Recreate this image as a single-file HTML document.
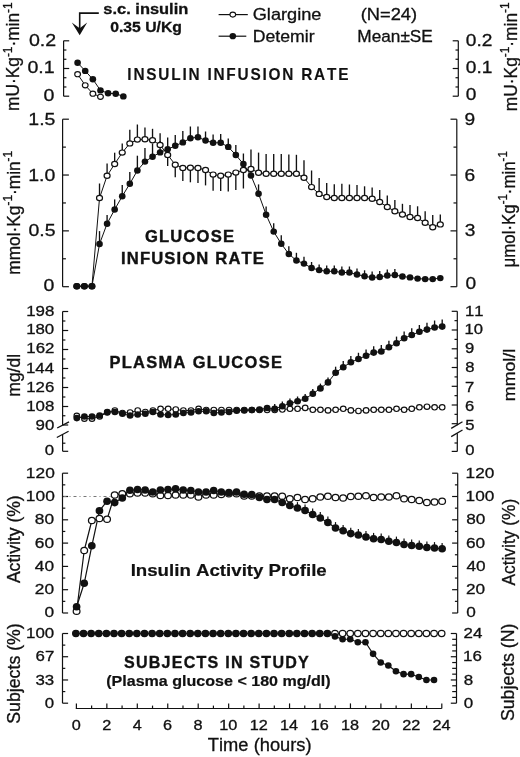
<!DOCTYPE html>
<html><head><meta charset="utf-8"><title>Insulin glargine vs detemir</title>
<style>
html,body{margin:0;padding:0;background:#fff;}
svg{display:block;}
text{font-family:"Liberation Sans",sans-serif;fill:#111;font-kerning:none;stroke:#111;stroke-width:0.3px;}
</style></head>
<body>
<svg width="520" height="757" viewBox="0 0 520 757">
<rect width="520" height="757" fill="#fff"/>
<line x1="63.60" y1="40.80" x2="63.60" y2="96.20" stroke="#111" stroke-width="1.2" />
<line x1="63.60" y1="96.20" x2="69.20" y2="96.20" stroke="#111" stroke-width="1.2" />
<line x1="63.60" y1="86.97" x2="66.40" y2="86.97" stroke="#111" stroke-width="1.2" />
<line x1="63.60" y1="77.73" x2="66.40" y2="77.73" stroke="#111" stroke-width="1.2" />
<line x1="63.60" y1="68.50" x2="69.20" y2="68.50" stroke="#111" stroke-width="1.2" />
<line x1="63.60" y1="59.27" x2="66.40" y2="59.27" stroke="#111" stroke-width="1.2" />
<line x1="63.60" y1="50.03" x2="66.40" y2="50.03" stroke="#111" stroke-width="1.2" />
<line x1="63.60" y1="40.80" x2="69.20" y2="40.80" stroke="#111" stroke-width="1.2" />
<line x1="458.30" y1="40.80" x2="458.30" y2="96.20" stroke="#111" stroke-width="1.2" />
<line x1="458.30" y1="96.20" x2="452.70" y2="96.20" stroke="#111" stroke-width="1.2" />
<line x1="458.30" y1="86.97" x2="455.50" y2="86.97" stroke="#111" stroke-width="1.2" />
<line x1="458.30" y1="77.73" x2="455.50" y2="77.73" stroke="#111" stroke-width="1.2" />
<line x1="458.30" y1="68.50" x2="452.70" y2="68.50" stroke="#111" stroke-width="1.2" />
<line x1="458.30" y1="59.27" x2="455.50" y2="59.27" stroke="#111" stroke-width="1.2" />
<line x1="458.30" y1="50.03" x2="455.50" y2="50.03" stroke="#111" stroke-width="1.2" />
<line x1="458.30" y1="40.80" x2="452.70" y2="40.80" stroke="#111" stroke-width="1.2" />
<path d="M77.60,74.20 L85.22,85.30 L92.85,93.70 L100.47,96.80" fill="none" stroke="#111" stroke-width="1.0" stroke-linejoin="round"/>
<path d="M77.60,62.80 L85.22,70.90 L92.85,79.30 L100.47,90.40 L108.10,93.30 L115.72,93.70 L123.35,96.40" fill="none" stroke="#111" stroke-width="1.0" stroke-linejoin="round"/>
<ellipse cx="77.60" cy="74.20" rx="2.88" ry="2.53" fill="#fff" stroke="#111" stroke-width="1.15"/>
<ellipse cx="85.22" cy="85.30" rx="2.88" ry="2.53" fill="#fff" stroke="#111" stroke-width="1.15"/>
<ellipse cx="92.85" cy="93.70" rx="2.88" ry="2.53" fill="#fff" stroke="#111" stroke-width="1.15"/>
<ellipse cx="100.47" cy="96.80" rx="2.88" ry="2.53" fill="#fff" stroke="#111" stroke-width="1.15"/>
<ellipse cx="77.60" cy="62.80" rx="3.3" ry="3.2" fill="#111"/>
<ellipse cx="85.22" cy="70.90" rx="3.3" ry="3.2" fill="#111"/>
<ellipse cx="92.85" cy="79.30" rx="3.3" ry="3.2" fill="#111"/>
<ellipse cx="100.47" cy="90.40" rx="3.3" ry="3.2" fill="#111"/>
<ellipse cx="108.10" cy="93.30" rx="3.3" ry="3.2" fill="#111"/>
<ellipse cx="115.72" cy="93.70" rx="3.3" ry="3.2" fill="#111"/>
<ellipse cx="123.35" cy="96.40" rx="3.3" ry="3.2" fill="#111"/>
<line x1="62.60" y1="119.20" x2="62.60" y2="286.70" stroke="#111" stroke-width="1.2" />
<line x1="62.60" y1="286.70" x2="68.90" y2="286.70" stroke="#111" stroke-width="1.2" />
<line x1="62.60" y1="258.78" x2="65.90" y2="258.78" stroke="#111" stroke-width="1.2" />
<line x1="62.60" y1="230.87" x2="68.90" y2="230.87" stroke="#111" stroke-width="1.2" />
<line x1="62.60" y1="202.95" x2="65.90" y2="202.95" stroke="#111" stroke-width="1.2" />
<line x1="62.60" y1="175.03" x2="68.90" y2="175.03" stroke="#111" stroke-width="1.2" />
<line x1="62.60" y1="147.12" x2="65.90" y2="147.12" stroke="#111" stroke-width="1.2" />
<line x1="62.60" y1="119.20" x2="68.90" y2="119.20" stroke="#111" stroke-width="1.2" />
<line x1="456.80" y1="119.20" x2="456.80" y2="286.70" stroke="#111" stroke-width="1.2" />
<line x1="456.80" y1="286.70" x2="450.50" y2="286.70" stroke="#111" stroke-width="1.2" />
<line x1="456.80" y1="258.78" x2="453.50" y2="258.78" stroke="#111" stroke-width="1.2" />
<line x1="456.80" y1="230.87" x2="450.50" y2="230.87" stroke="#111" stroke-width="1.2" />
<line x1="456.80" y1="202.95" x2="453.50" y2="202.95" stroke="#111" stroke-width="1.2" />
<line x1="456.80" y1="175.03" x2="450.50" y2="175.03" stroke="#111" stroke-width="1.2" />
<line x1="456.80" y1="147.12" x2="453.50" y2="147.12" stroke="#111" stroke-width="1.2" />
<line x1="456.80" y1="119.20" x2="450.50" y2="119.20" stroke="#111" stroke-width="1.2" />
<path d="M76.80,286.20 L84.37,286.20 L91.95,286.20 L99.52,198.00 L107.09,175.70 L114.66,164.00 L122.24,152.60 L129.81,143.40 L137.38,139.60 L144.96,139.30 L152.53,140.30 L160.10,144.90 L167.68,154.90 L175.25,164.70 L182.82,167.90 L190.39,167.70 L197.97,168.00 L205.54,170.00 L213.11,174.60 L220.69,175.70 L228.26,174.60 L235.83,172.60 L243.41,170.00 L250.98,169.00 L258.55,172.70 L266.12,173.70 L273.70,173.70 L281.27,173.70 L288.84,173.70 L296.42,173.70 L303.99,177.70 L311.56,187.10 L319.14,193.90 L326.71,197.00 L334.28,198.00 L341.86,198.00 L349.43,198.00 L357.00,198.00 L364.57,198.00 L372.15,198.80 L379.72,202.00 L387.29,207.00 L394.87,211.30 L402.44,214.50 L410.01,217.00 L417.59,218.00 L425.16,222.70 L432.73,227.30 L440.30,224.40" fill="none" stroke="#111" stroke-width="1.0" stroke-linejoin="round"/>
<path d="M76.80,286.20 L84.37,286.20 L91.95,286.20 L99.52,244.00 L107.09,223.70 L114.66,209.50 L122.24,196.20 L129.81,183.80 L137.38,170.50 L144.96,161.60 L152.53,156.80 L160.10,152.40 L167.68,149.30 L175.25,145.80 L182.82,142.40 L190.39,138.20 L197.97,137.20 L205.54,140.50 L213.11,142.80 L220.69,142.80 L228.26,146.90 L235.83,155.00 L243.41,164.00 L250.98,175.50 L258.55,193.80 L266.12,214.70 L273.70,231.60 L281.27,243.80 L288.84,254.00 L296.42,260.50 L303.99,263.60 L311.56,268.00 L319.14,270.10 L326.71,271.30 L334.28,271.30 L341.86,272.50 L349.43,272.50 L357.00,274.50 L364.57,276.30 L372.15,277.50 L379.72,277.00 L387.29,275.50 L394.87,275.00 L402.44,276.50 L410.01,277.40 L417.59,278.60 L425.16,279.10 L432.73,279.10 L440.30,278.10" fill="none" stroke="#111" stroke-width="1.0" stroke-linejoin="round"/>
<line x1="99.52" y1="198.00" x2="99.52" y2="183.50" stroke="#111" stroke-width="1.35" />
<line x1="107.09" y1="175.70" x2="107.09" y2="163.50" stroke="#111" stroke-width="1.35" />
<line x1="114.66" y1="164.00" x2="114.66" y2="152.70" stroke="#111" stroke-width="1.35" />
<line x1="122.24" y1="152.60" x2="122.24" y2="143.50" stroke="#111" stroke-width="1.35" />
<line x1="129.81" y1="143.40" x2="129.81" y2="129.70" stroke="#111" stroke-width="1.35" />
<line x1="137.38" y1="139.60" x2="137.38" y2="124.50" stroke="#111" stroke-width="1.35" />
<line x1="144.96" y1="139.30" x2="144.96" y2="127.50" stroke="#111" stroke-width="1.35" />
<line x1="152.53" y1="140.30" x2="152.53" y2="128.80" stroke="#111" stroke-width="1.35" />
<line x1="160.10" y1="144.90" x2="160.10" y2="133.20" stroke="#111" stroke-width="1.35" />
<line x1="167.68" y1="154.90" x2="167.68" y2="166.00" stroke="#111" stroke-width="1.35" />
<line x1="175.25" y1="164.70" x2="175.25" y2="177.30" stroke="#111" stroke-width="1.35" />
<line x1="182.82" y1="167.90" x2="182.82" y2="180.90" stroke="#111" stroke-width="1.35" />
<line x1="190.39" y1="167.70" x2="190.39" y2="182.30" stroke="#111" stroke-width="1.35" />
<line x1="197.97" y1="168.00" x2="197.97" y2="183.00" stroke="#111" stroke-width="1.35" />
<line x1="205.54" y1="170.00" x2="205.54" y2="185.40" stroke="#111" stroke-width="1.35" />
<line x1="213.11" y1="174.60" x2="213.11" y2="190.80" stroke="#111" stroke-width="1.35" />
<line x1="220.69" y1="175.70" x2="220.69" y2="191.00" stroke="#111" stroke-width="1.35" />
<line x1="228.26" y1="174.60" x2="228.26" y2="191.50" stroke="#111" stroke-width="1.35" />
<line x1="235.83" y1="172.60" x2="235.83" y2="190.00" stroke="#111" stroke-width="1.35" />
<line x1="243.41" y1="170.00" x2="243.41" y2="188.50" stroke="#111" stroke-width="1.35" />
<line x1="250.98" y1="169.00" x2="250.98" y2="149.60" stroke="#111" stroke-width="1.35" />
<line x1="258.55" y1="172.70" x2="258.55" y2="152.60" stroke="#111" stroke-width="1.35" />
<line x1="266.12" y1="173.70" x2="266.12" y2="153.90" stroke="#111" stroke-width="1.35" />
<line x1="273.70" y1="173.70" x2="273.70" y2="154.00" stroke="#111" stroke-width="1.35" />
<line x1="281.27" y1="173.70" x2="281.27" y2="154.00" stroke="#111" stroke-width="1.35" />
<line x1="288.84" y1="173.70" x2="288.84" y2="154.40" stroke="#111" stroke-width="1.35" />
<line x1="296.42" y1="173.70" x2="296.42" y2="154.80" stroke="#111" stroke-width="1.35" />
<line x1="303.99" y1="177.70" x2="303.99" y2="160.30" stroke="#111" stroke-width="1.35" />
<line x1="311.56" y1="187.10" x2="311.56" y2="170.50" stroke="#111" stroke-width="1.35" />
<line x1="319.14" y1="193.90" x2="319.14" y2="177.90" stroke="#111" stroke-width="1.35" />
<line x1="326.71" y1="197.00" x2="326.71" y2="183.00" stroke="#111" stroke-width="1.35" />
<line x1="334.28" y1="198.00" x2="334.28" y2="184.30" stroke="#111" stroke-width="1.35" />
<line x1="341.86" y1="198.00" x2="341.86" y2="183.80" stroke="#111" stroke-width="1.35" />
<line x1="349.43" y1="198.00" x2="349.43" y2="184.50" stroke="#111" stroke-width="1.35" />
<line x1="357.00" y1="198.00" x2="357.00" y2="185.00" stroke="#111" stroke-width="1.35" />
<line x1="364.57" y1="198.00" x2="364.57" y2="186.30" stroke="#111" stroke-width="1.35" />
<line x1="372.15" y1="198.80" x2="372.15" y2="187.50" stroke="#111" stroke-width="1.35" />
<line x1="379.72" y1="202.00" x2="379.72" y2="190.00" stroke="#111" stroke-width="1.35" />
<line x1="387.29" y1="207.00" x2="387.29" y2="195.50" stroke="#111" stroke-width="1.35" />
<line x1="394.87" y1="211.30" x2="394.87" y2="200.00" stroke="#111" stroke-width="1.35" />
<line x1="402.44" y1="214.50" x2="402.44" y2="203.80" stroke="#111" stroke-width="1.35" />
<line x1="410.01" y1="217.00" x2="410.01" y2="205.00" stroke="#111" stroke-width="1.35" />
<line x1="417.59" y1="218.00" x2="417.59" y2="206.30" stroke="#111" stroke-width="1.35" />
<line x1="425.16" y1="222.70" x2="425.16" y2="211.30" stroke="#111" stroke-width="1.35" />
<line x1="432.73" y1="227.30" x2="432.73" y2="215.00" stroke="#111" stroke-width="1.35" />
<line x1="440.30" y1="224.40" x2="440.30" y2="214.60" stroke="#111" stroke-width="1.35" />
<line x1="99.52" y1="244.00" x2="99.52" y2="231.10" stroke="#111" stroke-width="1.35" />
<line x1="107.09" y1="223.70" x2="107.09" y2="215.00" stroke="#111" stroke-width="1.35" />
<line x1="114.66" y1="209.50" x2="114.66" y2="199.40" stroke="#111" stroke-width="1.35" />
<line x1="122.24" y1="196.20" x2="122.24" y2="185.00" stroke="#111" stroke-width="1.35" />
<line x1="129.81" y1="183.80" x2="129.81" y2="172.10" stroke="#111" stroke-width="1.35" />
<line x1="137.38" y1="170.50" x2="137.38" y2="155.70" stroke="#111" stroke-width="1.35" />
<line x1="144.96" y1="161.60" x2="144.96" y2="147.90" stroke="#111" stroke-width="1.35" />
<line x1="152.53" y1="156.80" x2="152.53" y2="143.50" stroke="#111" stroke-width="1.35" />
<line x1="160.10" y1="152.40" x2="160.10" y2="141.00" stroke="#111" stroke-width="1.35" />
<line x1="167.68" y1="149.30" x2="167.68" y2="137.50" stroke="#111" stroke-width="1.35" />
<line x1="175.25" y1="145.80" x2="175.25" y2="134.90" stroke="#111" stroke-width="1.35" />
<line x1="182.82" y1="142.40" x2="182.82" y2="130.90" stroke="#111" stroke-width="1.35" />
<line x1="190.39" y1="138.20" x2="190.39" y2="126.50" stroke="#111" stroke-width="1.35" />
<line x1="197.97" y1="137.20" x2="197.97" y2="126.50" stroke="#111" stroke-width="1.35" />
<line x1="205.54" y1="140.50" x2="205.54" y2="131.50" stroke="#111" stroke-width="1.35" />
<line x1="213.11" y1="142.80" x2="213.11" y2="134.60" stroke="#111" stroke-width="1.35" />
<line x1="220.69" y1="142.80" x2="220.69" y2="134.00" stroke="#111" stroke-width="1.35" />
<line x1="228.26" y1="146.90" x2="228.26" y2="138.50" stroke="#111" stroke-width="1.35" />
<line x1="235.83" y1="155.00" x2="235.83" y2="145.00" stroke="#111" stroke-width="1.35" />
<line x1="243.41" y1="164.00" x2="243.41" y2="153.50" stroke="#111" stroke-width="1.35" />
<line x1="250.98" y1="175.50" x2="250.98" y2="166.00" stroke="#111" stroke-width="1.35" />
<line x1="258.55" y1="193.80" x2="258.55" y2="184.40" stroke="#111" stroke-width="1.35" />
<line x1="266.12" y1="214.70" x2="266.12" y2="206.50" stroke="#111" stroke-width="1.35" />
<line x1="273.70" y1="231.60" x2="273.70" y2="223.20" stroke="#111" stroke-width="1.35" />
<line x1="281.27" y1="243.80" x2="281.27" y2="235.20" stroke="#111" stroke-width="1.35" />
<line x1="288.84" y1="254.00" x2="288.84" y2="246.30" stroke="#111" stroke-width="1.35" />
<line x1="296.42" y1="260.50" x2="296.42" y2="252.80" stroke="#111" stroke-width="1.35" />
<line x1="303.99" y1="263.60" x2="303.99" y2="256.80" stroke="#111" stroke-width="1.35" />
<line x1="311.56" y1="268.00" x2="311.56" y2="262.00" stroke="#111" stroke-width="1.35" />
<line x1="319.14" y1="270.10" x2="319.14" y2="264.50" stroke="#111" stroke-width="1.35" />
<line x1="326.71" y1="271.30" x2="326.71" y2="265.50" stroke="#111" stroke-width="1.35" />
<line x1="334.28" y1="271.30" x2="334.28" y2="265.50" stroke="#111" stroke-width="1.35" />
<line x1="341.86" y1="272.50" x2="341.86" y2="266.50" stroke="#111" stroke-width="1.35" />
<line x1="349.43" y1="272.50" x2="349.43" y2="266.50" stroke="#111" stroke-width="1.35" />
<line x1="357.00" y1="274.50" x2="357.00" y2="268.50" stroke="#111" stroke-width="1.35" />
<line x1="364.57" y1="276.30" x2="364.57" y2="270.30" stroke="#111" stroke-width="1.35" />
<line x1="372.15" y1="277.50" x2="372.15" y2="271.50" stroke="#111" stroke-width="1.35" />
<line x1="379.72" y1="277.00" x2="379.72" y2="271.00" stroke="#111" stroke-width="1.35" />
<line x1="387.29" y1="275.50" x2="387.29" y2="269.50" stroke="#111" stroke-width="1.35" />
<line x1="394.87" y1="275.00" x2="394.87" y2="269.00" stroke="#111" stroke-width="1.35" />
<ellipse cx="76.80" cy="286.20" rx="3.00" ry="2.60" fill="#fff" stroke="#111" stroke-width="1.2"/>
<ellipse cx="84.37" cy="286.20" rx="3.00" ry="2.60" fill="#fff" stroke="#111" stroke-width="1.2"/>
<ellipse cx="91.95" cy="286.20" rx="3.00" ry="2.60" fill="#fff" stroke="#111" stroke-width="1.2"/>
<ellipse cx="99.52" cy="198.00" rx="3.00" ry="2.60" fill="#fff" stroke="#111" stroke-width="1.2"/>
<ellipse cx="107.09" cy="175.70" rx="3.00" ry="2.60" fill="#fff" stroke="#111" stroke-width="1.2"/>
<ellipse cx="114.66" cy="164.00" rx="3.00" ry="2.60" fill="#fff" stroke="#111" stroke-width="1.2"/>
<ellipse cx="122.24" cy="152.60" rx="3.00" ry="2.60" fill="#fff" stroke="#111" stroke-width="1.2"/>
<ellipse cx="129.81" cy="143.40" rx="3.00" ry="2.60" fill="#fff" stroke="#111" stroke-width="1.2"/>
<ellipse cx="137.38" cy="139.60" rx="3.00" ry="2.60" fill="#fff" stroke="#111" stroke-width="1.2"/>
<ellipse cx="144.96" cy="139.30" rx="3.00" ry="2.60" fill="#fff" stroke="#111" stroke-width="1.2"/>
<ellipse cx="152.53" cy="140.30" rx="3.00" ry="2.60" fill="#fff" stroke="#111" stroke-width="1.2"/>
<ellipse cx="160.10" cy="144.90" rx="3.00" ry="2.60" fill="#fff" stroke="#111" stroke-width="1.2"/>
<ellipse cx="167.68" cy="154.90" rx="3.00" ry="2.60" fill="#fff" stroke="#111" stroke-width="1.2"/>
<ellipse cx="175.25" cy="164.70" rx="3.00" ry="2.60" fill="#fff" stroke="#111" stroke-width="1.2"/>
<ellipse cx="182.82" cy="167.90" rx="3.00" ry="2.60" fill="#fff" stroke="#111" stroke-width="1.2"/>
<ellipse cx="190.39" cy="167.70" rx="3.00" ry="2.60" fill="#fff" stroke="#111" stroke-width="1.2"/>
<ellipse cx="197.97" cy="168.00" rx="3.00" ry="2.60" fill="#fff" stroke="#111" stroke-width="1.2"/>
<ellipse cx="205.54" cy="170.00" rx="3.00" ry="2.60" fill="#fff" stroke="#111" stroke-width="1.2"/>
<ellipse cx="213.11" cy="174.60" rx="3.00" ry="2.60" fill="#fff" stroke="#111" stroke-width="1.2"/>
<ellipse cx="220.69" cy="175.70" rx="3.00" ry="2.60" fill="#fff" stroke="#111" stroke-width="1.2"/>
<ellipse cx="228.26" cy="174.60" rx="3.00" ry="2.60" fill="#fff" stroke="#111" stroke-width="1.2"/>
<ellipse cx="235.83" cy="172.60" rx="3.00" ry="2.60" fill="#fff" stroke="#111" stroke-width="1.2"/>
<ellipse cx="243.41" cy="170.00" rx="3.00" ry="2.60" fill="#fff" stroke="#111" stroke-width="1.2"/>
<ellipse cx="250.98" cy="169.00" rx="3.00" ry="2.60" fill="#fff" stroke="#111" stroke-width="1.2"/>
<ellipse cx="258.55" cy="172.70" rx="3.00" ry="2.60" fill="#fff" stroke="#111" stroke-width="1.2"/>
<ellipse cx="266.12" cy="173.70" rx="3.00" ry="2.60" fill="#fff" stroke="#111" stroke-width="1.2"/>
<ellipse cx="273.70" cy="173.70" rx="3.00" ry="2.60" fill="#fff" stroke="#111" stroke-width="1.2"/>
<ellipse cx="281.27" cy="173.70" rx="3.00" ry="2.60" fill="#fff" stroke="#111" stroke-width="1.2"/>
<ellipse cx="288.84" cy="173.70" rx="3.00" ry="2.60" fill="#fff" stroke="#111" stroke-width="1.2"/>
<ellipse cx="296.42" cy="173.70" rx="3.00" ry="2.60" fill="#fff" stroke="#111" stroke-width="1.2"/>
<ellipse cx="303.99" cy="177.70" rx="3.00" ry="2.60" fill="#fff" stroke="#111" stroke-width="1.2"/>
<ellipse cx="311.56" cy="187.10" rx="3.00" ry="2.60" fill="#fff" stroke="#111" stroke-width="1.2"/>
<ellipse cx="319.14" cy="193.90" rx="3.00" ry="2.60" fill="#fff" stroke="#111" stroke-width="1.2"/>
<ellipse cx="326.71" cy="197.00" rx="3.00" ry="2.60" fill="#fff" stroke="#111" stroke-width="1.2"/>
<ellipse cx="334.28" cy="198.00" rx="3.00" ry="2.60" fill="#fff" stroke="#111" stroke-width="1.2"/>
<ellipse cx="341.86" cy="198.00" rx="3.00" ry="2.60" fill="#fff" stroke="#111" stroke-width="1.2"/>
<ellipse cx="349.43" cy="198.00" rx="3.00" ry="2.60" fill="#fff" stroke="#111" stroke-width="1.2"/>
<ellipse cx="357.00" cy="198.00" rx="3.00" ry="2.60" fill="#fff" stroke="#111" stroke-width="1.2"/>
<ellipse cx="364.57" cy="198.00" rx="3.00" ry="2.60" fill="#fff" stroke="#111" stroke-width="1.2"/>
<ellipse cx="372.15" cy="198.80" rx="3.00" ry="2.60" fill="#fff" stroke="#111" stroke-width="1.2"/>
<ellipse cx="379.72" cy="202.00" rx="3.00" ry="2.60" fill="#fff" stroke="#111" stroke-width="1.2"/>
<ellipse cx="387.29" cy="207.00" rx="3.00" ry="2.60" fill="#fff" stroke="#111" stroke-width="1.2"/>
<ellipse cx="394.87" cy="211.30" rx="3.00" ry="2.60" fill="#fff" stroke="#111" stroke-width="1.2"/>
<ellipse cx="402.44" cy="214.50" rx="3.00" ry="2.60" fill="#fff" stroke="#111" stroke-width="1.2"/>
<ellipse cx="410.01" cy="217.00" rx="3.00" ry="2.60" fill="#fff" stroke="#111" stroke-width="1.2"/>
<ellipse cx="417.59" cy="218.00" rx="3.00" ry="2.60" fill="#fff" stroke="#111" stroke-width="1.2"/>
<ellipse cx="425.16" cy="222.70" rx="3.00" ry="2.60" fill="#fff" stroke="#111" stroke-width="1.2"/>
<ellipse cx="432.73" cy="227.30" rx="3.00" ry="2.60" fill="#fff" stroke="#111" stroke-width="1.2"/>
<ellipse cx="440.30" cy="224.40" rx="3.00" ry="2.60" fill="#fff" stroke="#111" stroke-width="1.2"/>
<ellipse cx="76.80" cy="286.20" rx="3.3" ry="3.2" fill="#111"/>
<ellipse cx="84.37" cy="286.20" rx="3.3" ry="3.2" fill="#111"/>
<ellipse cx="91.95" cy="286.20" rx="3.3" ry="3.2" fill="#111"/>
<ellipse cx="99.52" cy="244.00" rx="3.3" ry="3.2" fill="#111"/>
<ellipse cx="107.09" cy="223.70" rx="3.3" ry="3.2" fill="#111"/>
<ellipse cx="114.66" cy="209.50" rx="3.3" ry="3.2" fill="#111"/>
<ellipse cx="122.24" cy="196.20" rx="3.3" ry="3.2" fill="#111"/>
<ellipse cx="129.81" cy="183.80" rx="3.3" ry="3.2" fill="#111"/>
<ellipse cx="137.38" cy="170.50" rx="3.3" ry="3.2" fill="#111"/>
<ellipse cx="144.96" cy="161.60" rx="3.3" ry="3.2" fill="#111"/>
<ellipse cx="152.53" cy="156.80" rx="3.3" ry="3.2" fill="#111"/>
<ellipse cx="160.10" cy="152.40" rx="3.3" ry="3.2" fill="#111"/>
<ellipse cx="167.68" cy="149.30" rx="3.3" ry="3.2" fill="#111"/>
<ellipse cx="175.25" cy="145.80" rx="3.3" ry="3.2" fill="#111"/>
<ellipse cx="182.82" cy="142.40" rx="3.3" ry="3.2" fill="#111"/>
<ellipse cx="190.39" cy="138.20" rx="3.3" ry="3.2" fill="#111"/>
<ellipse cx="197.97" cy="137.20" rx="3.3" ry="3.2" fill="#111"/>
<ellipse cx="205.54" cy="140.50" rx="3.3" ry="3.2" fill="#111"/>
<ellipse cx="213.11" cy="142.80" rx="3.3" ry="3.2" fill="#111"/>
<ellipse cx="220.69" cy="142.80" rx="3.3" ry="3.2" fill="#111"/>
<ellipse cx="228.26" cy="146.90" rx="3.3" ry="3.2" fill="#111"/>
<ellipse cx="235.83" cy="155.00" rx="3.3" ry="3.2" fill="#111"/>
<ellipse cx="243.41" cy="164.00" rx="3.3" ry="3.2" fill="#111"/>
<ellipse cx="250.98" cy="175.50" rx="3.3" ry="3.2" fill="#111"/>
<ellipse cx="258.55" cy="193.80" rx="3.3" ry="3.2" fill="#111"/>
<ellipse cx="266.12" cy="214.70" rx="3.3" ry="3.2" fill="#111"/>
<ellipse cx="273.70" cy="231.60" rx="3.3" ry="3.2" fill="#111"/>
<ellipse cx="281.27" cy="243.80" rx="3.3" ry="3.2" fill="#111"/>
<ellipse cx="288.84" cy="254.00" rx="3.3" ry="3.2" fill="#111"/>
<ellipse cx="296.42" cy="260.50" rx="3.3" ry="3.2" fill="#111"/>
<ellipse cx="303.99" cy="263.60" rx="3.3" ry="3.2" fill="#111"/>
<ellipse cx="311.56" cy="268.00" rx="3.3" ry="3.2" fill="#111"/>
<ellipse cx="319.14" cy="270.10" rx="3.3" ry="3.2" fill="#111"/>
<ellipse cx="326.71" cy="271.30" rx="3.3" ry="3.2" fill="#111"/>
<ellipse cx="334.28" cy="271.30" rx="3.3" ry="3.2" fill="#111"/>
<ellipse cx="341.86" cy="272.50" rx="3.3" ry="3.2" fill="#111"/>
<ellipse cx="349.43" cy="272.50" rx="3.3" ry="3.2" fill="#111"/>
<ellipse cx="357.00" cy="274.50" rx="3.3" ry="3.2" fill="#111"/>
<ellipse cx="364.57" cy="276.30" rx="3.3" ry="3.2" fill="#111"/>
<ellipse cx="372.15" cy="277.50" rx="3.3" ry="3.2" fill="#111"/>
<ellipse cx="379.72" cy="277.00" rx="3.3" ry="3.2" fill="#111"/>
<ellipse cx="387.29" cy="275.50" rx="3.3" ry="3.2" fill="#111"/>
<ellipse cx="394.87" cy="275.00" rx="3.3" ry="3.2" fill="#111"/>
<ellipse cx="402.44" cy="276.50" rx="3.3" ry="3.2" fill="#111"/>
<ellipse cx="410.01" cy="277.40" rx="3.3" ry="3.2" fill="#111"/>
<ellipse cx="417.59" cy="278.60" rx="3.3" ry="3.2" fill="#111"/>
<ellipse cx="425.16" cy="279.10" rx="3.3" ry="3.2" fill="#111"/>
<ellipse cx="432.73" cy="279.10" rx="3.3" ry="3.2" fill="#111"/>
<ellipse cx="440.30" cy="278.10" rx="3.3" ry="3.2" fill="#111"/>
<line x1="62.60" y1="311.50" x2="62.60" y2="425.00" stroke="#111" stroke-width="1.2" />
<line x1="62.60" y1="311.50" x2="68.20" y2="311.50" stroke="#111" stroke-width="1.2" />
<line x1="62.60" y1="321.00" x2="65.40" y2="321.00" stroke="#111" stroke-width="1.2" />
<line x1="62.60" y1="330.50" x2="68.20" y2="330.50" stroke="#111" stroke-width="1.2" />
<line x1="62.60" y1="340.00" x2="65.40" y2="340.00" stroke="#111" stroke-width="1.2" />
<line x1="62.60" y1="349.50" x2="68.20" y2="349.50" stroke="#111" stroke-width="1.2" />
<line x1="62.60" y1="359.00" x2="65.40" y2="359.00" stroke="#111" stroke-width="1.2" />
<line x1="62.60" y1="368.50" x2="68.20" y2="368.50" stroke="#111" stroke-width="1.2" />
<line x1="62.60" y1="378.00" x2="65.40" y2="378.00" stroke="#111" stroke-width="1.2" />
<line x1="62.60" y1="387.50" x2="68.20" y2="387.50" stroke="#111" stroke-width="1.2" />
<line x1="62.60" y1="397.00" x2="65.40" y2="397.00" stroke="#111" stroke-width="1.2" />
<line x1="62.60" y1="406.50" x2="68.20" y2="406.50" stroke="#111" stroke-width="1.2" />
<line x1="62.60" y1="415.75" x2="65.40" y2="415.75" stroke="#111" stroke-width="1.2" />
<line x1="62.60" y1="425.00" x2="68.20" y2="425.00" stroke="#111" stroke-width="1.2" />
<line x1="62.60" y1="434.20" x2="62.60" y2="451.30" stroke="#111" stroke-width="1.2" />
<line x1="62.60" y1="443.20" x2="65.40" y2="443.20" stroke="#111" stroke-width="1.2" />
<line x1="62.60" y1="451.30" x2="68.20" y2="451.30" stroke="#111" stroke-width="1.2" />
<line x1="57.20" y1="428.00" x2="69.00" y2="421.80" stroke="#111" stroke-width="1.3" />
<line x1="56.80" y1="437.50" x2="68.60" y2="431.20" stroke="#111" stroke-width="1.3" />
<line x1="457.30" y1="311.30" x2="457.30" y2="425.20" stroke="#111" stroke-width="1.2" />
<line x1="457.30" y1="311.30" x2="451.70" y2="311.30" stroke="#111" stroke-width="1.2" />
<line x1="457.30" y1="320.65" x2="454.50" y2="320.65" stroke="#111" stroke-width="1.2" />
<line x1="457.30" y1="330.00" x2="451.70" y2="330.00" stroke="#111" stroke-width="1.2" />
<line x1="457.30" y1="339.40" x2="454.50" y2="339.40" stroke="#111" stroke-width="1.2" />
<line x1="457.30" y1="348.80" x2="451.70" y2="348.80" stroke="#111" stroke-width="1.2" />
<line x1="457.30" y1="358.15" x2="454.50" y2="358.15" stroke="#111" stroke-width="1.2" />
<line x1="457.30" y1="367.50" x2="451.70" y2="367.50" stroke="#111" stroke-width="1.2" />
<line x1="457.30" y1="376.90" x2="454.50" y2="376.90" stroke="#111" stroke-width="1.2" />
<line x1="457.30" y1="386.30" x2="451.70" y2="386.30" stroke="#111" stroke-width="1.2" />
<line x1="457.30" y1="395.65" x2="454.50" y2="395.65" stroke="#111" stroke-width="1.2" />
<line x1="457.30" y1="405.00" x2="451.70" y2="405.00" stroke="#111" stroke-width="1.2" />
<line x1="457.30" y1="414.35" x2="454.50" y2="414.35" stroke="#111" stroke-width="1.2" />
<line x1="457.30" y1="423.70" x2="451.70" y2="423.70" stroke="#111" stroke-width="1.2" />
<line x1="457.30" y1="433.30" x2="457.30" y2="451.40" stroke="#111" stroke-width="1.2" />
<line x1="457.30" y1="443.00" x2="454.50" y2="443.00" stroke="#111" stroke-width="1.2" />
<line x1="457.30" y1="451.40" x2="451.70" y2="451.40" stroke="#111" stroke-width="1.2" />
<line x1="451.20" y1="428.40" x2="462.50" y2="421.80" stroke="#111" stroke-width="1.3" />
<line x1="451.20" y1="436.60" x2="462.50" y2="430.00" stroke="#111" stroke-width="1.3" />
<path d="M76.80,415.80 L84.41,418.70 L92.02,418.70 L99.64,416.50 L107.25,412.50 L114.86,410.50 L122.47,413.00 L130.09,412.50 L137.70,410.50 L145.31,412.00 L152.93,410.50 L160.54,408.80 L168.15,408.80 L175.76,409.50 L183.38,410.50 L190.99,410.50 L198.60,408.80 L206.21,410.00 L213.82,410.00 L221.44,410.00 L229.05,410.00 L236.66,410.00 L244.27,410.00 L251.89,410.00 L259.50,410.00 L267.11,410.00 L274.72,410.00 L282.34,409.50 L289.95,408.80 L297.56,408.80 L305.18,407.90 L312.79,409.80 L320.40,409.80 L328.01,410.40 L335.62,409.80 L343.24,408.80 L350.85,410.40 L358.46,411.00 L366.07,410.40 L373.69,409.80 L381.30,409.80 L388.91,409.80 L396.52,408.80 L404.14,409.80 L411.75,408.80 L419.36,407.30 L426.98,406.70 L434.59,407.30 L442.20,407.30" fill="none" stroke="#111" stroke-width="1.0" stroke-linejoin="round"/>
<path d="M76.80,418.10 L84.41,416.50 L92.02,416.50 L99.64,415.50 L107.25,412.00 L114.86,412.00 L122.47,413.80 L130.09,415.50 L137.70,414.50 L145.31,413.80 L152.93,412.00 L160.54,414.50 L168.15,415.00 L175.76,414.50 L183.38,413.00 L190.99,412.50 L198.60,411.30 L206.21,411.30 L213.82,413.00 L221.44,412.50 L229.05,412.00 L236.66,410.80 L244.27,410.50 L251.89,410.00 L259.50,409.50 L267.11,408.00 L274.72,408.80 L282.34,406.30 L289.95,403.30 L297.56,401.30 L305.18,398.80 L312.79,393.80 L320.40,388.40 L328.01,382.40 L335.62,372.70 L343.24,367.20 L350.85,362.20 L358.46,359.00 L366.07,355.70 L373.69,352.60 L381.30,351.50 L388.91,347.20 L396.52,343.20 L404.14,338.20 L411.75,335.00 L419.36,331.80 L426.98,329.60 L434.59,327.50 L442.20,326.60" fill="none" stroke="#111" stroke-width="1.0" stroke-linejoin="round"/>
<line x1="274.72" y1="408.80" x2="274.72" y2="404.00" stroke="#111" stroke-width="1.35" />
<line x1="282.34" y1="406.30" x2="282.34" y2="401.50" stroke="#111" stroke-width="1.35" />
<line x1="289.95" y1="403.30" x2="289.95" y2="398.50" stroke="#111" stroke-width="1.35" />
<line x1="297.56" y1="401.30" x2="297.56" y2="396.50" stroke="#111" stroke-width="1.35" />
<line x1="305.18" y1="398.80" x2="305.18" y2="394.00" stroke="#111" stroke-width="1.35" />
<line x1="312.79" y1="393.80" x2="312.79" y2="389.00" stroke="#111" stroke-width="1.35" />
<line x1="320.40" y1="388.40" x2="320.40" y2="383.60" stroke="#111" stroke-width="1.35" />
<line x1="328.01" y1="382.40" x2="328.01" y2="377.60" stroke="#111" stroke-width="1.35" />
<line x1="335.62" y1="372.70" x2="335.62" y2="366.70" stroke="#111" stroke-width="1.35" />
<line x1="343.24" y1="367.20" x2="343.24" y2="361.12" stroke="#111" stroke-width="1.35" />
<line x1="350.85" y1="362.20" x2="350.85" y2="356.05" stroke="#111" stroke-width="1.35" />
<line x1="358.46" y1="359.00" x2="358.46" y2="352.77" stroke="#111" stroke-width="1.35" />
<line x1="366.07" y1="355.70" x2="366.07" y2="349.40" stroke="#111" stroke-width="1.35" />
<line x1="373.69" y1="352.60" x2="373.69" y2="346.23" stroke="#111" stroke-width="1.35" />
<line x1="381.30" y1="351.50" x2="381.30" y2="345.05" stroke="#111" stroke-width="1.35" />
<line x1="388.91" y1="347.20" x2="388.91" y2="340.68" stroke="#111" stroke-width="1.35" />
<line x1="396.52" y1="343.20" x2="396.52" y2="336.60" stroke="#111" stroke-width="1.35" />
<line x1="404.14" y1="338.20" x2="404.14" y2="331.52" stroke="#111" stroke-width="1.35" />
<line x1="411.75" y1="335.00" x2="411.75" y2="328.25" stroke="#111" stroke-width="1.35" />
<line x1="419.36" y1="331.80" x2="419.36" y2="324.98" stroke="#111" stroke-width="1.35" />
<line x1="426.98" y1="329.60" x2="426.98" y2="322.70" stroke="#111" stroke-width="1.35" />
<line x1="434.59" y1="327.50" x2="434.59" y2="320.52" stroke="#111" stroke-width="1.35" />
<line x1="442.20" y1="326.60" x2="442.20" y2="319.55" stroke="#111" stroke-width="1.35" />
<ellipse cx="76.80" cy="415.80" rx="2.78" ry="2.72" fill="#fff" stroke="#111" stroke-width="1.15"/>
<ellipse cx="84.41" cy="418.70" rx="2.78" ry="2.72" fill="#fff" stroke="#111" stroke-width="1.15"/>
<ellipse cx="92.02" cy="418.70" rx="2.78" ry="2.72" fill="#fff" stroke="#111" stroke-width="1.15"/>
<ellipse cx="99.64" cy="416.50" rx="2.78" ry="2.72" fill="#fff" stroke="#111" stroke-width="1.15"/>
<ellipse cx="107.25" cy="412.50" rx="2.78" ry="2.72" fill="#fff" stroke="#111" stroke-width="1.15"/>
<ellipse cx="114.86" cy="410.50" rx="2.78" ry="2.72" fill="#fff" stroke="#111" stroke-width="1.15"/>
<ellipse cx="122.47" cy="413.00" rx="2.78" ry="2.72" fill="#fff" stroke="#111" stroke-width="1.15"/>
<ellipse cx="130.09" cy="412.50" rx="2.78" ry="2.72" fill="#fff" stroke="#111" stroke-width="1.15"/>
<ellipse cx="137.70" cy="410.50" rx="2.78" ry="2.72" fill="#fff" stroke="#111" stroke-width="1.15"/>
<ellipse cx="145.31" cy="412.00" rx="2.78" ry="2.72" fill="#fff" stroke="#111" stroke-width="1.15"/>
<ellipse cx="152.93" cy="410.50" rx="2.78" ry="2.72" fill="#fff" stroke="#111" stroke-width="1.15"/>
<ellipse cx="160.54" cy="408.80" rx="2.78" ry="2.72" fill="#fff" stroke="#111" stroke-width="1.15"/>
<ellipse cx="168.15" cy="408.80" rx="2.78" ry="2.72" fill="#fff" stroke="#111" stroke-width="1.15"/>
<ellipse cx="175.76" cy="409.50" rx="2.78" ry="2.72" fill="#fff" stroke="#111" stroke-width="1.15"/>
<ellipse cx="183.38" cy="410.50" rx="2.78" ry="2.72" fill="#fff" stroke="#111" stroke-width="1.15"/>
<ellipse cx="190.99" cy="410.50" rx="2.78" ry="2.72" fill="#fff" stroke="#111" stroke-width="1.15"/>
<ellipse cx="198.60" cy="408.80" rx="2.78" ry="2.72" fill="#fff" stroke="#111" stroke-width="1.15"/>
<ellipse cx="206.21" cy="410.00" rx="2.78" ry="2.72" fill="#fff" stroke="#111" stroke-width="1.15"/>
<ellipse cx="213.82" cy="410.00" rx="2.78" ry="2.72" fill="#fff" stroke="#111" stroke-width="1.15"/>
<ellipse cx="221.44" cy="410.00" rx="2.78" ry="2.72" fill="#fff" stroke="#111" stroke-width="1.15"/>
<ellipse cx="229.05" cy="410.00" rx="2.78" ry="2.72" fill="#fff" stroke="#111" stroke-width="1.15"/>
<ellipse cx="236.66" cy="410.00" rx="2.78" ry="2.72" fill="#fff" stroke="#111" stroke-width="1.15"/>
<ellipse cx="244.27" cy="410.00" rx="2.78" ry="2.72" fill="#fff" stroke="#111" stroke-width="1.15"/>
<ellipse cx="251.89" cy="410.00" rx="2.78" ry="2.72" fill="#fff" stroke="#111" stroke-width="1.15"/>
<ellipse cx="259.50" cy="410.00" rx="2.78" ry="2.72" fill="#fff" stroke="#111" stroke-width="1.15"/>
<ellipse cx="267.11" cy="410.00" rx="2.78" ry="2.72" fill="#fff" stroke="#111" stroke-width="1.15"/>
<ellipse cx="274.72" cy="410.00" rx="2.78" ry="2.72" fill="#fff" stroke="#111" stroke-width="1.15"/>
<ellipse cx="282.34" cy="409.50" rx="2.78" ry="2.72" fill="#fff" stroke="#111" stroke-width="1.15"/>
<ellipse cx="289.95" cy="408.80" rx="2.78" ry="2.72" fill="#fff" stroke="#111" stroke-width="1.15"/>
<ellipse cx="297.56" cy="408.80" rx="2.78" ry="2.72" fill="#fff" stroke="#111" stroke-width="1.15"/>
<ellipse cx="305.18" cy="407.90" rx="2.78" ry="2.72" fill="#fff" stroke="#111" stroke-width="1.15"/>
<ellipse cx="312.79" cy="409.80" rx="2.78" ry="2.72" fill="#fff" stroke="#111" stroke-width="1.15"/>
<ellipse cx="320.40" cy="409.80" rx="2.78" ry="2.72" fill="#fff" stroke="#111" stroke-width="1.15"/>
<ellipse cx="328.01" cy="410.40" rx="2.78" ry="2.72" fill="#fff" stroke="#111" stroke-width="1.15"/>
<ellipse cx="335.62" cy="409.80" rx="2.78" ry="2.72" fill="#fff" stroke="#111" stroke-width="1.15"/>
<ellipse cx="343.24" cy="408.80" rx="2.78" ry="2.72" fill="#fff" stroke="#111" stroke-width="1.15"/>
<ellipse cx="350.85" cy="410.40" rx="2.78" ry="2.72" fill="#fff" stroke="#111" stroke-width="1.15"/>
<ellipse cx="358.46" cy="411.00" rx="2.78" ry="2.72" fill="#fff" stroke="#111" stroke-width="1.15"/>
<ellipse cx="366.07" cy="410.40" rx="2.78" ry="2.72" fill="#fff" stroke="#111" stroke-width="1.15"/>
<ellipse cx="373.69" cy="409.80" rx="2.78" ry="2.72" fill="#fff" stroke="#111" stroke-width="1.15"/>
<ellipse cx="381.30" cy="409.80" rx="2.78" ry="2.72" fill="#fff" stroke="#111" stroke-width="1.15"/>
<ellipse cx="388.91" cy="409.80" rx="2.78" ry="2.72" fill="#fff" stroke="#111" stroke-width="1.15"/>
<ellipse cx="396.52" cy="408.80" rx="2.78" ry="2.72" fill="#fff" stroke="#111" stroke-width="1.15"/>
<ellipse cx="404.14" cy="409.80" rx="2.78" ry="2.72" fill="#fff" stroke="#111" stroke-width="1.15"/>
<ellipse cx="411.75" cy="408.80" rx="2.78" ry="2.72" fill="#fff" stroke="#111" stroke-width="1.15"/>
<ellipse cx="419.36" cy="407.30" rx="2.78" ry="2.72" fill="#fff" stroke="#111" stroke-width="1.15"/>
<ellipse cx="426.98" cy="406.70" rx="2.78" ry="2.72" fill="#fff" stroke="#111" stroke-width="1.15"/>
<ellipse cx="434.59" cy="407.30" rx="2.78" ry="2.72" fill="#fff" stroke="#111" stroke-width="1.15"/>
<ellipse cx="442.20" cy="407.30" rx="2.78" ry="2.72" fill="#fff" stroke="#111" stroke-width="1.15"/>
<ellipse cx="76.80" cy="418.10" rx="3.4" ry="3.3" fill="#111"/>
<ellipse cx="84.41" cy="416.50" rx="3.4" ry="3.3" fill="#111"/>
<ellipse cx="92.02" cy="416.50" rx="3.4" ry="3.3" fill="#111"/>
<ellipse cx="99.64" cy="415.50" rx="3.4" ry="3.3" fill="#111"/>
<ellipse cx="107.25" cy="412.00" rx="3.4" ry="3.3" fill="#111"/>
<ellipse cx="114.86" cy="412.00" rx="3.4" ry="3.3" fill="#111"/>
<ellipse cx="122.47" cy="413.80" rx="3.4" ry="3.3" fill="#111"/>
<ellipse cx="130.09" cy="415.50" rx="3.4" ry="3.3" fill="#111"/>
<ellipse cx="137.70" cy="414.50" rx="3.4" ry="3.3" fill="#111"/>
<ellipse cx="145.31" cy="413.80" rx="3.4" ry="3.3" fill="#111"/>
<ellipse cx="152.93" cy="412.00" rx="3.4" ry="3.3" fill="#111"/>
<ellipse cx="160.54" cy="414.50" rx="3.4" ry="3.3" fill="#111"/>
<ellipse cx="168.15" cy="415.00" rx="3.4" ry="3.3" fill="#111"/>
<ellipse cx="175.76" cy="414.50" rx="3.4" ry="3.3" fill="#111"/>
<ellipse cx="183.38" cy="413.00" rx="3.4" ry="3.3" fill="#111"/>
<ellipse cx="190.99" cy="412.50" rx="3.4" ry="3.3" fill="#111"/>
<ellipse cx="198.60" cy="411.30" rx="3.4" ry="3.3" fill="#111"/>
<ellipse cx="206.21" cy="411.30" rx="3.4" ry="3.3" fill="#111"/>
<ellipse cx="213.82" cy="413.00" rx="3.4" ry="3.3" fill="#111"/>
<ellipse cx="221.44" cy="412.50" rx="3.4" ry="3.3" fill="#111"/>
<ellipse cx="229.05" cy="412.00" rx="3.4" ry="3.3" fill="#111"/>
<ellipse cx="236.66" cy="410.80" rx="3.4" ry="3.3" fill="#111"/>
<ellipse cx="244.27" cy="410.50" rx="3.4" ry="3.3" fill="#111"/>
<ellipse cx="251.89" cy="410.00" rx="3.4" ry="3.3" fill="#111"/>
<ellipse cx="259.50" cy="409.50" rx="3.4" ry="3.3" fill="#111"/>
<ellipse cx="267.11" cy="408.00" rx="3.4" ry="3.3" fill="#111"/>
<ellipse cx="274.72" cy="408.80" rx="3.4" ry="3.3" fill="#111"/>
<ellipse cx="282.34" cy="406.30" rx="3.4" ry="3.3" fill="#111"/>
<ellipse cx="289.95" cy="403.30" rx="3.4" ry="3.3" fill="#111"/>
<ellipse cx="297.56" cy="401.30" rx="3.4" ry="3.3" fill="#111"/>
<ellipse cx="305.18" cy="398.80" rx="3.4" ry="3.3" fill="#111"/>
<ellipse cx="312.79" cy="393.80" rx="3.4" ry="3.3" fill="#111"/>
<ellipse cx="320.40" cy="388.40" rx="3.4" ry="3.3" fill="#111"/>
<ellipse cx="328.01" cy="382.40" rx="3.4" ry="3.3" fill="#111"/>
<ellipse cx="335.62" cy="372.70" rx="3.4" ry="3.3" fill="#111"/>
<ellipse cx="343.24" cy="367.20" rx="3.4" ry="3.3" fill="#111"/>
<ellipse cx="350.85" cy="362.20" rx="3.4" ry="3.3" fill="#111"/>
<ellipse cx="358.46" cy="359.00" rx="3.4" ry="3.3" fill="#111"/>
<ellipse cx="366.07" cy="355.70" rx="3.4" ry="3.3" fill="#111"/>
<ellipse cx="373.69" cy="352.60" rx="3.4" ry="3.3" fill="#111"/>
<ellipse cx="381.30" cy="351.50" rx="3.4" ry="3.3" fill="#111"/>
<ellipse cx="388.91" cy="347.20" rx="3.4" ry="3.3" fill="#111"/>
<ellipse cx="396.52" cy="343.20" rx="3.4" ry="3.3" fill="#111"/>
<ellipse cx="404.14" cy="338.20" rx="3.4" ry="3.3" fill="#111"/>
<ellipse cx="411.75" cy="335.00" rx="3.4" ry="3.3" fill="#111"/>
<ellipse cx="419.36" cy="331.80" rx="3.4" ry="3.3" fill="#111"/>
<ellipse cx="426.98" cy="329.60" rx="3.4" ry="3.3" fill="#111"/>
<ellipse cx="434.59" cy="327.50" rx="3.4" ry="3.3" fill="#111"/>
<ellipse cx="442.20" cy="326.60" rx="3.4" ry="3.3" fill="#111"/>
<line x1="62.50" y1="473.20" x2="62.50" y2="613.00" stroke="#111" stroke-width="1.2" />
<line x1="62.50" y1="613.00" x2="68.10" y2="613.00" stroke="#111" stroke-width="1.2" />
<line x1="62.50" y1="601.35" x2="65.30" y2="601.35" stroke="#111" stroke-width="1.2" />
<line x1="62.50" y1="589.70" x2="68.10" y2="589.70" stroke="#111" stroke-width="1.2" />
<line x1="62.50" y1="578.05" x2="65.30" y2="578.05" stroke="#111" stroke-width="1.2" />
<line x1="62.50" y1="566.40" x2="68.10" y2="566.40" stroke="#111" stroke-width="1.2" />
<line x1="62.50" y1="554.75" x2="65.30" y2="554.75" stroke="#111" stroke-width="1.2" />
<line x1="62.50" y1="543.10" x2="68.10" y2="543.10" stroke="#111" stroke-width="1.2" />
<line x1="62.50" y1="531.45" x2="65.30" y2="531.45" stroke="#111" stroke-width="1.2" />
<line x1="62.50" y1="519.80" x2="68.10" y2="519.80" stroke="#111" stroke-width="1.2" />
<line x1="62.50" y1="508.15" x2="65.30" y2="508.15" stroke="#111" stroke-width="1.2" />
<line x1="62.50" y1="496.50" x2="68.10" y2="496.50" stroke="#111" stroke-width="1.2" />
<line x1="62.50" y1="484.85" x2="65.30" y2="484.85" stroke="#111" stroke-width="1.2" />
<line x1="62.50" y1="473.20" x2="68.10" y2="473.20" stroke="#111" stroke-width="1.2" />
<line x1="457.70" y1="473.20" x2="457.70" y2="613.00" stroke="#111" stroke-width="1.2" />
<line x1="457.70" y1="613.00" x2="452.10" y2="613.00" stroke="#111" stroke-width="1.2" />
<line x1="457.70" y1="601.35" x2="454.90" y2="601.35" stroke="#111" stroke-width="1.2" />
<line x1="457.70" y1="589.70" x2="452.10" y2="589.70" stroke="#111" stroke-width="1.2" />
<line x1="457.70" y1="578.05" x2="454.90" y2="578.05" stroke="#111" stroke-width="1.2" />
<line x1="457.70" y1="566.40" x2="452.10" y2="566.40" stroke="#111" stroke-width="1.2" />
<line x1="457.70" y1="554.75" x2="454.90" y2="554.75" stroke="#111" stroke-width="1.2" />
<line x1="457.70" y1="543.10" x2="452.10" y2="543.10" stroke="#111" stroke-width="1.2" />
<line x1="457.70" y1="531.45" x2="454.90" y2="531.45" stroke="#111" stroke-width="1.2" />
<line x1="457.70" y1="519.80" x2="452.10" y2="519.80" stroke="#111" stroke-width="1.2" />
<line x1="457.70" y1="508.15" x2="454.90" y2="508.15" stroke="#111" stroke-width="1.2" />
<line x1="457.70" y1="496.50" x2="452.10" y2="496.50" stroke="#111" stroke-width="1.2" />
<line x1="457.70" y1="484.85" x2="454.90" y2="484.85" stroke="#111" stroke-width="1.2" />
<line x1="457.70" y1="473.20" x2="452.10" y2="473.20" stroke="#111" stroke-width="1.2" />
<line x1="63.5" y1="496.5" x2="112" y2="496.5" stroke="#777" stroke-width="1" stroke-dasharray="3,3,1,3"/>
<path d="M76.60,611.30 L84.21,550.50 L91.83,520.50 L99.44,518.50 L107.06,519.20 L114.67,495.00 L122.29,493.80 L129.91,493.80 L137.52,493.00 L145.13,493.00 L152.75,493.80 L160.37,495.50 L167.98,495.50 L175.59,495.00 L183.21,495.00 L190.82,495.00 L198.44,497.00 L206.06,495.00 L213.67,495.00 L221.28,494.50 L228.90,493.80 L236.51,493.80 L244.13,496.00 L251.75,496.00 L259.36,496.00 L266.98,496.00 L274.59,496.00 L282.21,496.30 L289.82,498.80 L297.44,497.50 L305.05,499.50 L312.66,498.80 L320.28,497.00 L327.89,496.30 L335.51,497.50 L343.12,498.00 L350.74,496.50 L358.36,496.30 L365.97,495.80 L373.59,497.50 L381.20,497.00 L388.82,497.00 L396.43,495.80 L404.04,498.80 L411.66,499.50 L419.27,500.50 L426.89,502.50 L434.50,502.00 L442.12,501.30" fill="none" stroke="#111" stroke-width="1.2" stroke-linejoin="round"/>
<path d="M76.60,606.80 L84.21,583.30 L91.83,545.80 L99.44,510.80 L107.06,501.20 L114.67,502.60 L122.29,498.00 L129.91,490.30 L137.52,489.50 L145.13,490.00 L152.75,492.00 L160.37,490.00 L167.98,489.50 L175.59,488.80 L183.21,490.00 L190.82,490.50 L198.44,492.00 L206.06,492.00 L213.67,490.50 L221.28,492.00 L228.90,492.50 L236.51,492.00 L244.13,494.30 L251.75,494.50 L259.36,497.50 L266.98,499.50 L274.59,499.50 L282.21,502.50 L289.82,505.50 L297.44,508.00 L305.05,510.50 L312.66,514.50 L320.28,518.00 L327.89,522.50 L335.51,528.00 L343.12,530.80 L350.74,533.60 L358.36,535.00 L365.97,537.00 L373.59,538.80 L381.20,539.50 L388.82,541.30 L396.43,542.50 L404.04,544.50 L411.66,545.50 L419.27,546.30 L426.89,547.50 L434.50,548.00 L442.12,548.80" fill="none" stroke="#111" stroke-width="1.2" stroke-linejoin="round"/>
<line x1="266.98" y1="499.50" x2="266.98" y2="493.60" stroke="#111" stroke-width="1.2" />
<line x1="274.59" y1="499.50" x2="274.59" y2="493.60" stroke="#111" stroke-width="1.2" />
<line x1="282.21" y1="502.50" x2="282.21" y2="496.60" stroke="#111" stroke-width="1.2" />
<line x1="289.82" y1="505.50" x2="289.82" y2="499.60" stroke="#111" stroke-width="1.2" />
<line x1="297.44" y1="508.00" x2="297.44" y2="502.10" stroke="#111" stroke-width="1.2" />
<line x1="305.05" y1="510.50" x2="305.05" y2="504.60" stroke="#111" stroke-width="1.2" />
<line x1="312.66" y1="514.50" x2="312.66" y2="508.60" stroke="#111" stroke-width="1.2" />
<line x1="320.28" y1="518.00" x2="320.28" y2="512.10" stroke="#111" stroke-width="1.2" />
<line x1="327.89" y1="522.50" x2="327.89" y2="516.60" stroke="#111" stroke-width="1.2" />
<line x1="335.51" y1="528.00" x2="335.51" y2="522.10" stroke="#111" stroke-width="1.2" />
<line x1="343.12" y1="530.80" x2="343.12" y2="524.90" stroke="#111" stroke-width="1.2" />
<line x1="350.74" y1="533.60" x2="350.74" y2="527.70" stroke="#111" stroke-width="1.2" />
<line x1="358.36" y1="535.00" x2="358.36" y2="529.10" stroke="#111" stroke-width="1.2" />
<line x1="365.97" y1="537.00" x2="365.97" y2="531.10" stroke="#111" stroke-width="1.2" />
<line x1="373.59" y1="538.80" x2="373.59" y2="532.90" stroke="#111" stroke-width="1.2" />
<line x1="381.20" y1="539.50" x2="381.20" y2="533.60" stroke="#111" stroke-width="1.2" />
<line x1="388.82" y1="541.30" x2="388.82" y2="535.40" stroke="#111" stroke-width="1.2" />
<line x1="396.43" y1="542.50" x2="396.43" y2="536.60" stroke="#111" stroke-width="1.2" />
<line x1="404.04" y1="544.50" x2="404.04" y2="538.60" stroke="#111" stroke-width="1.2" />
<line x1="411.66" y1="545.50" x2="411.66" y2="539.60" stroke="#111" stroke-width="1.2" />
<line x1="419.27" y1="546.30" x2="419.27" y2="540.40" stroke="#111" stroke-width="1.2" />
<line x1="426.89" y1="547.50" x2="426.89" y2="541.60" stroke="#111" stroke-width="1.2" />
<line x1="434.50" y1="548.00" x2="434.50" y2="542.10" stroke="#111" stroke-width="1.2" />
<line x1="442.12" y1="548.80" x2="442.12" y2="542.90" stroke="#111" stroke-width="1.2" />
<ellipse cx="76.60" cy="611.30" rx="3.38" ry="3.17" fill="#fff" stroke="#111" stroke-width="1.25"/>
<ellipse cx="84.21" cy="550.50" rx="3.38" ry="3.17" fill="#fff" stroke="#111" stroke-width="1.25"/>
<ellipse cx="91.83" cy="520.50" rx="3.38" ry="3.17" fill="#fff" stroke="#111" stroke-width="1.25"/>
<ellipse cx="99.44" cy="518.50" rx="3.38" ry="3.17" fill="#fff" stroke="#111" stroke-width="1.25"/>
<ellipse cx="107.06" cy="519.20" rx="3.38" ry="3.17" fill="#fff" stroke="#111" stroke-width="1.25"/>
<ellipse cx="114.67" cy="495.00" rx="3.38" ry="3.17" fill="#fff" stroke="#111" stroke-width="1.25"/>
<ellipse cx="122.29" cy="493.80" rx="3.38" ry="3.17" fill="#fff" stroke="#111" stroke-width="1.25"/>
<ellipse cx="129.91" cy="493.80" rx="3.38" ry="3.17" fill="#fff" stroke="#111" stroke-width="1.25"/>
<ellipse cx="137.52" cy="493.00" rx="3.38" ry="3.17" fill="#fff" stroke="#111" stroke-width="1.25"/>
<ellipse cx="145.13" cy="493.00" rx="3.38" ry="3.17" fill="#fff" stroke="#111" stroke-width="1.25"/>
<ellipse cx="152.75" cy="493.80" rx="3.38" ry="3.17" fill="#fff" stroke="#111" stroke-width="1.25"/>
<ellipse cx="160.37" cy="495.50" rx="3.38" ry="3.17" fill="#fff" stroke="#111" stroke-width="1.25"/>
<ellipse cx="167.98" cy="495.50" rx="3.38" ry="3.17" fill="#fff" stroke="#111" stroke-width="1.25"/>
<ellipse cx="175.59" cy="495.00" rx="3.38" ry="3.17" fill="#fff" stroke="#111" stroke-width="1.25"/>
<ellipse cx="183.21" cy="495.00" rx="3.38" ry="3.17" fill="#fff" stroke="#111" stroke-width="1.25"/>
<ellipse cx="190.82" cy="495.00" rx="3.38" ry="3.17" fill="#fff" stroke="#111" stroke-width="1.25"/>
<ellipse cx="198.44" cy="497.00" rx="3.38" ry="3.17" fill="#fff" stroke="#111" stroke-width="1.25"/>
<ellipse cx="206.06" cy="495.00" rx="3.38" ry="3.17" fill="#fff" stroke="#111" stroke-width="1.25"/>
<ellipse cx="213.67" cy="495.00" rx="3.38" ry="3.17" fill="#fff" stroke="#111" stroke-width="1.25"/>
<ellipse cx="221.28" cy="494.50" rx="3.38" ry="3.17" fill="#fff" stroke="#111" stroke-width="1.25"/>
<ellipse cx="228.90" cy="493.80" rx="3.38" ry="3.17" fill="#fff" stroke="#111" stroke-width="1.25"/>
<ellipse cx="236.51" cy="493.80" rx="3.38" ry="3.17" fill="#fff" stroke="#111" stroke-width="1.25"/>
<ellipse cx="244.13" cy="496.00" rx="3.38" ry="3.17" fill="#fff" stroke="#111" stroke-width="1.25"/>
<ellipse cx="251.75" cy="496.00" rx="3.38" ry="3.17" fill="#fff" stroke="#111" stroke-width="1.25"/>
<ellipse cx="259.36" cy="496.00" rx="3.38" ry="3.17" fill="#fff" stroke="#111" stroke-width="1.25"/>
<ellipse cx="266.98" cy="496.00" rx="3.38" ry="3.17" fill="#fff" stroke="#111" stroke-width="1.25"/>
<ellipse cx="274.59" cy="496.00" rx="3.38" ry="3.17" fill="#fff" stroke="#111" stroke-width="1.25"/>
<ellipse cx="282.21" cy="496.30" rx="3.38" ry="3.17" fill="#fff" stroke="#111" stroke-width="1.25"/>
<ellipse cx="289.82" cy="498.80" rx="3.38" ry="3.17" fill="#fff" stroke="#111" stroke-width="1.25"/>
<ellipse cx="297.44" cy="497.50" rx="3.38" ry="3.17" fill="#fff" stroke="#111" stroke-width="1.25"/>
<ellipse cx="305.05" cy="499.50" rx="3.38" ry="3.17" fill="#fff" stroke="#111" stroke-width="1.25"/>
<ellipse cx="312.66" cy="498.80" rx="3.38" ry="3.17" fill="#fff" stroke="#111" stroke-width="1.25"/>
<ellipse cx="320.28" cy="497.00" rx="3.38" ry="3.17" fill="#fff" stroke="#111" stroke-width="1.25"/>
<ellipse cx="327.89" cy="496.30" rx="3.38" ry="3.17" fill="#fff" stroke="#111" stroke-width="1.25"/>
<ellipse cx="335.51" cy="497.50" rx="3.38" ry="3.17" fill="#fff" stroke="#111" stroke-width="1.25"/>
<ellipse cx="343.12" cy="498.00" rx="3.38" ry="3.17" fill="#fff" stroke="#111" stroke-width="1.25"/>
<ellipse cx="350.74" cy="496.50" rx="3.38" ry="3.17" fill="#fff" stroke="#111" stroke-width="1.25"/>
<ellipse cx="358.36" cy="496.30" rx="3.38" ry="3.17" fill="#fff" stroke="#111" stroke-width="1.25"/>
<ellipse cx="365.97" cy="495.80" rx="3.38" ry="3.17" fill="#fff" stroke="#111" stroke-width="1.25"/>
<ellipse cx="373.59" cy="497.50" rx="3.38" ry="3.17" fill="#fff" stroke="#111" stroke-width="1.25"/>
<ellipse cx="381.20" cy="497.00" rx="3.38" ry="3.17" fill="#fff" stroke="#111" stroke-width="1.25"/>
<ellipse cx="388.82" cy="497.00" rx="3.38" ry="3.17" fill="#fff" stroke="#111" stroke-width="1.25"/>
<ellipse cx="396.43" cy="495.80" rx="3.38" ry="3.17" fill="#fff" stroke="#111" stroke-width="1.25"/>
<ellipse cx="404.04" cy="498.80" rx="3.38" ry="3.17" fill="#fff" stroke="#111" stroke-width="1.25"/>
<ellipse cx="411.66" cy="499.50" rx="3.38" ry="3.17" fill="#fff" stroke="#111" stroke-width="1.25"/>
<ellipse cx="419.27" cy="500.50" rx="3.38" ry="3.17" fill="#fff" stroke="#111" stroke-width="1.25"/>
<ellipse cx="426.89" cy="502.50" rx="3.38" ry="3.17" fill="#fff" stroke="#111" stroke-width="1.25"/>
<ellipse cx="434.50" cy="502.00" rx="3.38" ry="3.17" fill="#fff" stroke="#111" stroke-width="1.25"/>
<ellipse cx="442.12" cy="501.30" rx="3.38" ry="3.17" fill="#fff" stroke="#111" stroke-width="1.25"/>
<ellipse cx="76.60" cy="606.80" rx="3.85" ry="3.8" fill="#111"/>
<ellipse cx="84.21" cy="583.30" rx="3.85" ry="3.8" fill="#111"/>
<ellipse cx="91.83" cy="545.80" rx="3.85" ry="3.8" fill="#111"/>
<ellipse cx="99.44" cy="510.80" rx="3.85" ry="3.8" fill="#111"/>
<ellipse cx="107.06" cy="501.20" rx="3.85" ry="3.8" fill="#111"/>
<ellipse cx="114.67" cy="502.60" rx="3.85" ry="3.8" fill="#111"/>
<ellipse cx="122.29" cy="498.00" rx="3.85" ry="3.8" fill="#111"/>
<ellipse cx="129.91" cy="490.30" rx="3.85" ry="3.8" fill="#111"/>
<ellipse cx="137.52" cy="489.50" rx="3.85" ry="3.8" fill="#111"/>
<ellipse cx="145.13" cy="490.00" rx="3.85" ry="3.8" fill="#111"/>
<ellipse cx="152.75" cy="492.00" rx="3.85" ry="3.8" fill="#111"/>
<ellipse cx="160.37" cy="490.00" rx="3.85" ry="3.8" fill="#111"/>
<ellipse cx="167.98" cy="489.50" rx="3.85" ry="3.8" fill="#111"/>
<ellipse cx="175.59" cy="488.80" rx="3.85" ry="3.8" fill="#111"/>
<ellipse cx="183.21" cy="490.00" rx="3.85" ry="3.8" fill="#111"/>
<ellipse cx="190.82" cy="490.50" rx="3.85" ry="3.8" fill="#111"/>
<ellipse cx="198.44" cy="492.00" rx="3.85" ry="3.8" fill="#111"/>
<ellipse cx="206.06" cy="492.00" rx="3.85" ry="3.8" fill="#111"/>
<ellipse cx="213.67" cy="490.50" rx="3.85" ry="3.8" fill="#111"/>
<ellipse cx="221.28" cy="492.00" rx="3.85" ry="3.8" fill="#111"/>
<ellipse cx="228.90" cy="492.50" rx="3.85" ry="3.8" fill="#111"/>
<ellipse cx="236.51" cy="492.00" rx="3.85" ry="3.8" fill="#111"/>
<ellipse cx="244.13" cy="494.30" rx="3.85" ry="3.8" fill="#111"/>
<ellipse cx="251.75" cy="494.50" rx="3.85" ry="3.8" fill="#111"/>
<ellipse cx="259.36" cy="497.50" rx="3.85" ry="3.8" fill="#111"/>
<ellipse cx="266.98" cy="499.50" rx="3.85" ry="3.8" fill="#111"/>
<ellipse cx="274.59" cy="499.50" rx="3.85" ry="3.8" fill="#111"/>
<ellipse cx="282.21" cy="502.50" rx="3.85" ry="3.8" fill="#111"/>
<ellipse cx="289.82" cy="505.50" rx="3.85" ry="3.8" fill="#111"/>
<ellipse cx="297.44" cy="508.00" rx="3.85" ry="3.8" fill="#111"/>
<ellipse cx="305.05" cy="510.50" rx="3.85" ry="3.8" fill="#111"/>
<ellipse cx="312.66" cy="514.50" rx="3.85" ry="3.8" fill="#111"/>
<ellipse cx="320.28" cy="518.00" rx="3.85" ry="3.8" fill="#111"/>
<ellipse cx="327.89" cy="522.50" rx="3.85" ry="3.8" fill="#111"/>
<ellipse cx="335.51" cy="528.00" rx="3.85" ry="3.8" fill="#111"/>
<ellipse cx="343.12" cy="530.80" rx="3.85" ry="3.8" fill="#111"/>
<ellipse cx="350.74" cy="533.60" rx="3.85" ry="3.8" fill="#111"/>
<ellipse cx="358.36" cy="535.00" rx="3.85" ry="3.8" fill="#111"/>
<ellipse cx="365.97" cy="537.00" rx="3.85" ry="3.8" fill="#111"/>
<ellipse cx="373.59" cy="538.80" rx="3.85" ry="3.8" fill="#111"/>
<ellipse cx="381.20" cy="539.50" rx="3.85" ry="3.8" fill="#111"/>
<ellipse cx="388.82" cy="541.30" rx="3.85" ry="3.8" fill="#111"/>
<ellipse cx="396.43" cy="542.50" rx="3.85" ry="3.8" fill="#111"/>
<ellipse cx="404.04" cy="544.50" rx="3.85" ry="3.8" fill="#111"/>
<ellipse cx="411.66" cy="545.50" rx="3.85" ry="3.8" fill="#111"/>
<ellipse cx="419.27" cy="546.30" rx="3.85" ry="3.8" fill="#111"/>
<ellipse cx="426.89" cy="547.50" rx="3.85" ry="3.8" fill="#111"/>
<ellipse cx="434.50" cy="548.00" rx="3.85" ry="3.8" fill="#111"/>
<ellipse cx="442.12" cy="548.80" rx="3.85" ry="3.8" fill="#111"/>
<line x1="62.50" y1="633.50" x2="62.50" y2="703.20" stroke="#111" stroke-width="1.2" />
<line x1="62.50" y1="703.20" x2="68.10" y2="703.20" stroke="#111" stroke-width="1.2" />
<line x1="62.50" y1="691.58" x2="65.30" y2="691.58" stroke="#111" stroke-width="1.2" />
<line x1="62.50" y1="679.97" x2="68.10" y2="679.97" stroke="#111" stroke-width="1.2" />
<line x1="62.50" y1="668.35" x2="65.30" y2="668.35" stroke="#111" stroke-width="1.2" />
<line x1="62.50" y1="656.73" x2="68.10" y2="656.73" stroke="#111" stroke-width="1.2" />
<line x1="62.50" y1="645.12" x2="65.30" y2="645.12" stroke="#111" stroke-width="1.2" />
<line x1="62.50" y1="633.50" x2="68.10" y2="633.50" stroke="#111" stroke-width="1.2" />
<line x1="456.50" y1="633.50" x2="456.50" y2="703.20" stroke="#111" stroke-width="1.2" />
<line x1="456.50" y1="703.20" x2="450.80" y2="703.20" stroke="#111" stroke-width="1.2" />
<line x1="456.50" y1="697.39" x2="452.20" y2="697.39" stroke="#111" stroke-width="1.2" />
<line x1="456.50" y1="691.58" x2="452.20" y2="691.58" stroke="#111" stroke-width="1.2" />
<line x1="456.50" y1="685.78" x2="452.20" y2="685.78" stroke="#111" stroke-width="1.2" />
<line x1="456.50" y1="679.97" x2="450.80" y2="679.97" stroke="#111" stroke-width="1.2" />
<line x1="456.50" y1="674.16" x2="452.20" y2="674.16" stroke="#111" stroke-width="1.2" />
<line x1="456.50" y1="668.35" x2="452.20" y2="668.35" stroke="#111" stroke-width="1.2" />
<line x1="456.50" y1="662.54" x2="452.20" y2="662.54" stroke="#111" stroke-width="1.2" />
<line x1="456.50" y1="656.73" x2="450.80" y2="656.73" stroke="#111" stroke-width="1.2" />
<line x1="456.50" y1="650.92" x2="452.20" y2="650.92" stroke="#111" stroke-width="1.2" />
<line x1="456.50" y1="645.12" x2="452.20" y2="645.12" stroke="#111" stroke-width="1.2" />
<line x1="456.50" y1="639.31" x2="452.20" y2="639.31" stroke="#111" stroke-width="1.2" />
<line x1="456.50" y1="633.50" x2="450.80" y2="633.50" stroke="#111" stroke-width="1.2" />
<path d="M75.90,633.50 L83.52,633.50 L91.14,633.50 L98.76,633.50 L106.38,633.50 L114.00,633.50 L121.62,633.50 L129.24,633.50 L136.86,633.50 L144.48,633.50 L152.10,633.50 L159.72,633.50 L167.34,633.50 L174.96,633.50 L182.58,633.50 L190.20,633.50 L197.82,633.50 L205.44,633.50 L213.06,633.50 L220.68,633.50 L228.30,633.50 L235.92,633.50 L243.54,633.50 L251.16,633.50 L258.78,633.50 L266.40,633.50 L274.02,633.50 L281.64,633.50 L289.26,633.50 L296.88,633.50 L304.50,633.50 L312.12,633.50 L319.74,633.50 L327.36,633.50 L334.98,633.50 L342.60,633.50 L350.22,633.50 L357.84,633.50 L365.46,633.50 L373.08,633.50 L380.70,633.50 L388.32,633.50 L395.94,633.50 L403.56,633.50 L411.18,633.50 L418.80,633.50 L426.42,633.50 L434.04,633.50 L441.66,633.50" fill="none" stroke="#111" stroke-width="1.1" stroke-linejoin="round"/>
<path d="M75.90,633.50 L83.52,633.50 L91.14,633.50 L98.76,633.50 L106.38,633.50 L114.00,633.50 L121.62,633.50 L129.24,633.50 L136.86,633.50 L144.48,633.50 L152.10,633.50 L159.72,633.50 L167.34,633.50 L174.96,633.50 L182.58,633.50 L190.20,633.50 L197.82,633.50 L205.44,633.50 L213.06,633.50 L220.68,633.50 L228.30,633.50 L235.92,633.50 L243.54,633.50 L251.16,633.50 L258.78,633.50 L266.40,633.50 L274.02,633.50 L281.64,633.50 L289.26,633.50 L296.88,633.50 L304.50,633.50 L312.12,633.50 L319.74,633.50 L327.36,633.50 L334.98,636.40 L342.60,639.31 L350.22,639.31 L357.84,642.21 L365.46,642.21 L373.08,653.83 L380.70,662.54 L388.32,665.45 L395.94,671.25 L403.56,674.16 L411.18,674.16 L418.80,677.06 L426.42,679.97 L434.04,679.97" fill="none" stroke="#111" stroke-width="1.1" stroke-linejoin="round"/>
<ellipse cx="75.90" cy="633.50" rx="3.27" ry="3.02" fill="#fff" stroke="#111" stroke-width="1.25"/>
<ellipse cx="83.52" cy="633.50" rx="3.27" ry="3.02" fill="#fff" stroke="#111" stroke-width="1.25"/>
<ellipse cx="91.14" cy="633.50" rx="3.27" ry="3.02" fill="#fff" stroke="#111" stroke-width="1.25"/>
<ellipse cx="98.76" cy="633.50" rx="3.27" ry="3.02" fill="#fff" stroke="#111" stroke-width="1.25"/>
<ellipse cx="106.38" cy="633.50" rx="3.27" ry="3.02" fill="#fff" stroke="#111" stroke-width="1.25"/>
<ellipse cx="114.00" cy="633.50" rx="3.27" ry="3.02" fill="#fff" stroke="#111" stroke-width="1.25"/>
<ellipse cx="121.62" cy="633.50" rx="3.27" ry="3.02" fill="#fff" stroke="#111" stroke-width="1.25"/>
<ellipse cx="129.24" cy="633.50" rx="3.27" ry="3.02" fill="#fff" stroke="#111" stroke-width="1.25"/>
<ellipse cx="136.86" cy="633.50" rx="3.27" ry="3.02" fill="#fff" stroke="#111" stroke-width="1.25"/>
<ellipse cx="144.48" cy="633.50" rx="3.27" ry="3.02" fill="#fff" stroke="#111" stroke-width="1.25"/>
<ellipse cx="152.10" cy="633.50" rx="3.27" ry="3.02" fill="#fff" stroke="#111" stroke-width="1.25"/>
<ellipse cx="159.72" cy="633.50" rx="3.27" ry="3.02" fill="#fff" stroke="#111" stroke-width="1.25"/>
<ellipse cx="167.34" cy="633.50" rx="3.27" ry="3.02" fill="#fff" stroke="#111" stroke-width="1.25"/>
<ellipse cx="174.96" cy="633.50" rx="3.27" ry="3.02" fill="#fff" stroke="#111" stroke-width="1.25"/>
<ellipse cx="182.58" cy="633.50" rx="3.27" ry="3.02" fill="#fff" stroke="#111" stroke-width="1.25"/>
<ellipse cx="190.20" cy="633.50" rx="3.27" ry="3.02" fill="#fff" stroke="#111" stroke-width="1.25"/>
<ellipse cx="197.82" cy="633.50" rx="3.27" ry="3.02" fill="#fff" stroke="#111" stroke-width="1.25"/>
<ellipse cx="205.44" cy="633.50" rx="3.27" ry="3.02" fill="#fff" stroke="#111" stroke-width="1.25"/>
<ellipse cx="213.06" cy="633.50" rx="3.27" ry="3.02" fill="#fff" stroke="#111" stroke-width="1.25"/>
<ellipse cx="220.68" cy="633.50" rx="3.27" ry="3.02" fill="#fff" stroke="#111" stroke-width="1.25"/>
<ellipse cx="228.30" cy="633.50" rx="3.27" ry="3.02" fill="#fff" stroke="#111" stroke-width="1.25"/>
<ellipse cx="235.92" cy="633.50" rx="3.27" ry="3.02" fill="#fff" stroke="#111" stroke-width="1.25"/>
<ellipse cx="243.54" cy="633.50" rx="3.27" ry="3.02" fill="#fff" stroke="#111" stroke-width="1.25"/>
<ellipse cx="251.16" cy="633.50" rx="3.27" ry="3.02" fill="#fff" stroke="#111" stroke-width="1.25"/>
<ellipse cx="258.78" cy="633.50" rx="3.27" ry="3.02" fill="#fff" stroke="#111" stroke-width="1.25"/>
<ellipse cx="266.40" cy="633.50" rx="3.27" ry="3.02" fill="#fff" stroke="#111" stroke-width="1.25"/>
<ellipse cx="274.02" cy="633.50" rx="3.27" ry="3.02" fill="#fff" stroke="#111" stroke-width="1.25"/>
<ellipse cx="281.64" cy="633.50" rx="3.27" ry="3.02" fill="#fff" stroke="#111" stroke-width="1.25"/>
<ellipse cx="289.26" cy="633.50" rx="3.27" ry="3.02" fill="#fff" stroke="#111" stroke-width="1.25"/>
<ellipse cx="296.88" cy="633.50" rx="3.27" ry="3.02" fill="#fff" stroke="#111" stroke-width="1.25"/>
<ellipse cx="304.50" cy="633.50" rx="3.27" ry="3.02" fill="#fff" stroke="#111" stroke-width="1.25"/>
<ellipse cx="312.12" cy="633.50" rx="3.27" ry="3.02" fill="#fff" stroke="#111" stroke-width="1.25"/>
<ellipse cx="319.74" cy="633.50" rx="3.27" ry="3.02" fill="#fff" stroke="#111" stroke-width="1.25"/>
<ellipse cx="327.36" cy="633.50" rx="3.27" ry="3.02" fill="#fff" stroke="#111" stroke-width="1.25"/>
<ellipse cx="334.98" cy="633.50" rx="3.27" ry="3.02" fill="#fff" stroke="#111" stroke-width="1.25"/>
<ellipse cx="342.60" cy="633.50" rx="3.27" ry="3.02" fill="#fff" stroke="#111" stroke-width="1.25"/>
<ellipse cx="350.22" cy="633.50" rx="3.27" ry="3.02" fill="#fff" stroke="#111" stroke-width="1.25"/>
<ellipse cx="357.84" cy="633.50" rx="3.27" ry="3.02" fill="#fff" stroke="#111" stroke-width="1.25"/>
<ellipse cx="365.46" cy="633.50" rx="3.27" ry="3.02" fill="#fff" stroke="#111" stroke-width="1.25"/>
<ellipse cx="373.08" cy="633.50" rx="3.27" ry="3.02" fill="#fff" stroke="#111" stroke-width="1.25"/>
<ellipse cx="380.70" cy="633.50" rx="3.27" ry="3.02" fill="#fff" stroke="#111" stroke-width="1.25"/>
<ellipse cx="388.32" cy="633.50" rx="3.27" ry="3.02" fill="#fff" stroke="#111" stroke-width="1.25"/>
<ellipse cx="395.94" cy="633.50" rx="3.27" ry="3.02" fill="#fff" stroke="#111" stroke-width="1.25"/>
<ellipse cx="403.56" cy="633.50" rx="3.27" ry="3.02" fill="#fff" stroke="#111" stroke-width="1.25"/>
<ellipse cx="411.18" cy="633.50" rx="3.27" ry="3.02" fill="#fff" stroke="#111" stroke-width="1.25"/>
<ellipse cx="418.80" cy="633.50" rx="3.27" ry="3.02" fill="#fff" stroke="#111" stroke-width="1.25"/>
<ellipse cx="426.42" cy="633.50" rx="3.27" ry="3.02" fill="#fff" stroke="#111" stroke-width="1.25"/>
<ellipse cx="434.04" cy="633.50" rx="3.27" ry="3.02" fill="#fff" stroke="#111" stroke-width="1.25"/>
<ellipse cx="441.66" cy="633.50" rx="3.27" ry="3.02" fill="#fff" stroke="#111" stroke-width="1.25"/>
<ellipse cx="75.90" cy="633.50" rx="3.3" ry="3.3" fill="#111"/>
<ellipse cx="83.52" cy="633.50" rx="3.3" ry="3.3" fill="#111"/>
<ellipse cx="91.14" cy="633.50" rx="3.3" ry="3.3" fill="#111"/>
<ellipse cx="98.76" cy="633.50" rx="3.3" ry="3.3" fill="#111"/>
<ellipse cx="106.38" cy="633.50" rx="3.3" ry="3.3" fill="#111"/>
<ellipse cx="114.00" cy="633.50" rx="3.3" ry="3.3" fill="#111"/>
<ellipse cx="121.62" cy="633.50" rx="3.3" ry="3.3" fill="#111"/>
<ellipse cx="129.24" cy="633.50" rx="3.3" ry="3.3" fill="#111"/>
<ellipse cx="136.86" cy="633.50" rx="3.3" ry="3.3" fill="#111"/>
<ellipse cx="144.48" cy="633.50" rx="3.3" ry="3.3" fill="#111"/>
<ellipse cx="152.10" cy="633.50" rx="3.3" ry="3.3" fill="#111"/>
<ellipse cx="159.72" cy="633.50" rx="3.3" ry="3.3" fill="#111"/>
<ellipse cx="167.34" cy="633.50" rx="3.3" ry="3.3" fill="#111"/>
<ellipse cx="174.96" cy="633.50" rx="3.3" ry="3.3" fill="#111"/>
<ellipse cx="182.58" cy="633.50" rx="3.3" ry="3.3" fill="#111"/>
<ellipse cx="190.20" cy="633.50" rx="3.3" ry="3.3" fill="#111"/>
<ellipse cx="197.82" cy="633.50" rx="3.3" ry="3.3" fill="#111"/>
<ellipse cx="205.44" cy="633.50" rx="3.3" ry="3.3" fill="#111"/>
<ellipse cx="213.06" cy="633.50" rx="3.3" ry="3.3" fill="#111"/>
<ellipse cx="220.68" cy="633.50" rx="3.3" ry="3.3" fill="#111"/>
<ellipse cx="228.30" cy="633.50" rx="3.3" ry="3.3" fill="#111"/>
<ellipse cx="235.92" cy="633.50" rx="3.3" ry="3.3" fill="#111"/>
<ellipse cx="243.54" cy="633.50" rx="3.3" ry="3.3" fill="#111"/>
<ellipse cx="251.16" cy="633.50" rx="3.3" ry="3.3" fill="#111"/>
<ellipse cx="258.78" cy="633.50" rx="3.3" ry="3.3" fill="#111"/>
<ellipse cx="266.40" cy="633.50" rx="3.3" ry="3.3" fill="#111"/>
<ellipse cx="274.02" cy="633.50" rx="3.3" ry="3.3" fill="#111"/>
<ellipse cx="281.64" cy="633.50" rx="3.3" ry="3.3" fill="#111"/>
<ellipse cx="289.26" cy="633.50" rx="3.3" ry="3.3" fill="#111"/>
<ellipse cx="296.88" cy="633.50" rx="3.3" ry="3.3" fill="#111"/>
<ellipse cx="304.50" cy="633.50" rx="3.3" ry="3.3" fill="#111"/>
<ellipse cx="312.12" cy="633.50" rx="3.3" ry="3.3" fill="#111"/>
<ellipse cx="319.74" cy="633.50" rx="3.3" ry="3.3" fill="#111"/>
<ellipse cx="327.36" cy="633.50" rx="3.3" ry="3.3" fill="#111"/>
<ellipse cx="334.98" cy="636.40" rx="3.3" ry="3.3" fill="#111"/>
<ellipse cx="342.60" cy="639.31" rx="3.3" ry="3.3" fill="#111"/>
<ellipse cx="350.22" cy="639.31" rx="3.3" ry="3.3" fill="#111"/>
<ellipse cx="357.84" cy="642.21" rx="3.3" ry="3.3" fill="#111"/>
<ellipse cx="365.46" cy="642.21" rx="3.3" ry="3.3" fill="#111"/>
<ellipse cx="373.08" cy="653.83" rx="3.3" ry="3.3" fill="#111"/>
<ellipse cx="380.70" cy="662.54" rx="3.3" ry="3.3" fill="#111"/>
<ellipse cx="388.32" cy="665.45" rx="3.3" ry="3.3" fill="#111"/>
<ellipse cx="395.94" cy="671.25" rx="3.3" ry="3.3" fill="#111"/>
<ellipse cx="403.56" cy="674.16" rx="3.3" ry="3.3" fill="#111"/>
<ellipse cx="411.18" cy="674.16" rx="3.3" ry="3.3" fill="#111"/>
<ellipse cx="418.80" cy="677.06" rx="3.3" ry="3.3" fill="#111"/>
<ellipse cx="426.42" cy="679.97" rx="3.3" ry="3.3" fill="#111"/>
<ellipse cx="434.04" cy="679.97" rx="3.3" ry="3.3" fill="#111"/>
<line x1="75.80" y1="708.50" x2="441.80" y2="708.50" stroke="#111" stroke-width="1.2" />
<line x1="76.40" y1="708.60" x2="76.40" y2="703.40" stroke="#111" stroke-width="1.2" />
<line x1="91.62" y1="708.60" x2="91.62" y2="705.60" stroke="#111" stroke-width="1.2" />
<line x1="106.85" y1="708.60" x2="106.85" y2="703.40" stroke="#111" stroke-width="1.2" />
<line x1="122.08" y1="708.60" x2="122.08" y2="705.60" stroke="#111" stroke-width="1.2" />
<line x1="137.30" y1="708.60" x2="137.30" y2="703.40" stroke="#111" stroke-width="1.2" />
<line x1="152.53" y1="708.60" x2="152.53" y2="705.60" stroke="#111" stroke-width="1.2" />
<line x1="167.75" y1="708.60" x2="167.75" y2="703.40" stroke="#111" stroke-width="1.2" />
<line x1="182.98" y1="708.60" x2="182.98" y2="705.60" stroke="#111" stroke-width="1.2" />
<line x1="198.20" y1="708.60" x2="198.20" y2="703.40" stroke="#111" stroke-width="1.2" />
<line x1="213.43" y1="708.60" x2="213.43" y2="705.60" stroke="#111" stroke-width="1.2" />
<line x1="228.65" y1="708.60" x2="228.65" y2="703.40" stroke="#111" stroke-width="1.2" />
<line x1="243.88" y1="708.60" x2="243.88" y2="705.60" stroke="#111" stroke-width="1.2" />
<line x1="259.10" y1="708.60" x2="259.10" y2="703.40" stroke="#111" stroke-width="1.2" />
<line x1="274.32" y1="708.60" x2="274.32" y2="705.60" stroke="#111" stroke-width="1.2" />
<line x1="289.55" y1="708.60" x2="289.55" y2="703.40" stroke="#111" stroke-width="1.2" />
<line x1="304.77" y1="708.60" x2="304.77" y2="705.60" stroke="#111" stroke-width="1.2" />
<line x1="320.00" y1="708.60" x2="320.00" y2="703.40" stroke="#111" stroke-width="1.2" />
<line x1="335.23" y1="708.60" x2="335.23" y2="705.60" stroke="#111" stroke-width="1.2" />
<line x1="350.45" y1="708.60" x2="350.45" y2="703.40" stroke="#111" stroke-width="1.2" />
<line x1="365.67" y1="708.60" x2="365.67" y2="705.60" stroke="#111" stroke-width="1.2" />
<line x1="380.90" y1="708.60" x2="380.90" y2="703.40" stroke="#111" stroke-width="1.2" />
<line x1="396.12" y1="708.60" x2="396.12" y2="705.60" stroke="#111" stroke-width="1.2" />
<line x1="411.35" y1="708.60" x2="411.35" y2="703.40" stroke="#111" stroke-width="1.2" />
<line x1="426.58" y1="708.60" x2="426.58" y2="705.60" stroke="#111" stroke-width="1.2" />
<line x1="441.80" y1="708.60" x2="441.80" y2="703.40" stroke="#111" stroke-width="1.2" />
<text x="28.93" y="46.07" font-size="17.2" textLength="27.26" lengthAdjust="spacingAndGlyphs">0.2</text>
<text x="27.40" y="73.32" font-size="17.2" textLength="27.26" lengthAdjust="spacingAndGlyphs">0.1</text>
<text x="43.46" y="100.87" font-size="17.2" textLength="10.91" lengthAdjust="spacingAndGlyphs">0</text>
<text x="465.75" y="45.68" font-size="16.8" textLength="26.62" lengthAdjust="spacingAndGlyphs">0.2</text>
<text x="465.75" y="73.18" font-size="16.8" textLength="26.62" lengthAdjust="spacingAndGlyphs">0.1</text>
<text x="465.75" y="100.38" font-size="16.8" textLength="10.65" lengthAdjust="spacingAndGlyphs">0</text>
<text x="28.33" y="125.05" font-size="17.4" textLength="27.09" lengthAdjust="spacingAndGlyphs">1.5</text>
<text x="28.27" y="180.59" font-size="17.4" textLength="27.09" lengthAdjust="spacingAndGlyphs">1.0</text>
<text x="28.53" y="235.99" font-size="17.4" textLength="27.09" lengthAdjust="spacingAndGlyphs">0.5</text>
<text x="43.52" y="290.84" font-size="17.4" textLength="10.84" lengthAdjust="spacingAndGlyphs">0</text>
<text x="464.50" y="124.99" font-size="17.1" textLength="10.65" lengthAdjust="spacingAndGlyphs">9</text>
<text x="464.43" y="180.79" font-size="17.1" textLength="10.65" lengthAdjust="spacingAndGlyphs">6</text>
<text x="464.67" y="235.79" font-size="17.1" textLength="10.65" lengthAdjust="spacingAndGlyphs">3</text>
<text x="465.45" y="289.19" font-size="17.1" textLength="10.65" lengthAdjust="spacingAndGlyphs">0</text>
<text x="26.22" y="315.61" font-size="14.4" textLength="28.11" lengthAdjust="spacingAndGlyphs">198</text>
<text x="26.15" y="334.41" font-size="14.4" textLength="28.11" lengthAdjust="spacingAndGlyphs">180</text>
<text x="26.34" y="353.46" font-size="14.4" textLength="28.11" lengthAdjust="spacingAndGlyphs">162</text>
<text x="25.98" y="372.50" font-size="14.4" textLength="28.11" lengthAdjust="spacingAndGlyphs">144</text>
<text x="26.23" y="392.06" font-size="14.4" textLength="28.11" lengthAdjust="spacingAndGlyphs">126</text>
<text x="26.22" y="411.11" font-size="14.4" textLength="28.11" lengthAdjust="spacingAndGlyphs">108</text>
<text x="35.52" y="430.01" font-size="14.4" textLength="18.74" lengthAdjust="spacingAndGlyphs">90</text>
<text x="44.69" y="454.91" font-size="14.4" textLength="9.37" lengthAdjust="spacingAndGlyphs">0</text>
<text x="464.93" y="315.58" font-size="14.2" textLength="18.48" lengthAdjust="spacingAndGlyphs">11</text>
<text x="464.63" y="334.39" font-size="14.2" textLength="18.48" lengthAdjust="spacingAndGlyphs">10</text>
<text x="465.12" y="353.44" font-size="14.2" textLength="9.24" lengthAdjust="spacingAndGlyphs">9</text>
<text x="465.18" y="372.44" font-size="14.2" textLength="9.24" lengthAdjust="spacingAndGlyphs">8</text>
<text x="465.05" y="391.63" font-size="14.2" textLength="9.24" lengthAdjust="spacingAndGlyphs">7</text>
<text x="465.06" y="410.84" font-size="14.2" textLength="9.24" lengthAdjust="spacingAndGlyphs">6</text>
<text x="465.23" y="429.57" font-size="14.2" textLength="9.24" lengthAdjust="spacingAndGlyphs">5</text>
<text x="465.25" y="455.19" font-size="14.2" textLength="9.24" lengthAdjust="spacingAndGlyphs">0</text>
<text x="44.44" y="617.23" font-size="15.2" textLength="9.64" lengthAdjust="spacingAndGlyphs">0</text>
<text x="466.23" y="617.20" font-size="15.1" textLength="9.57" lengthAdjust="spacingAndGlyphs">0</text>
<text x="34.80" y="594.01" font-size="15.2" textLength="19.27" lengthAdjust="spacingAndGlyphs">20</text>
<text x="466.03" y="593.98" font-size="15.1" textLength="19.15" lengthAdjust="spacingAndGlyphs">20</text>
<text x="34.80" y="570.79" font-size="15.2" textLength="19.27" lengthAdjust="spacingAndGlyphs">40</text>
<text x="466.50" y="570.76" font-size="15.1" textLength="19.15" lengthAdjust="spacingAndGlyphs">40</text>
<text x="34.80" y="547.57" font-size="15.2" textLength="19.27" lengthAdjust="spacingAndGlyphs">60</text>
<text x="466.03" y="547.54" font-size="15.1" textLength="19.15" lengthAdjust="spacingAndGlyphs">60</text>
<text x="34.80" y="524.35" font-size="15.2" textLength="19.27" lengthAdjust="spacingAndGlyphs">80</text>
<text x="466.15" y="524.32" font-size="15.1" textLength="19.15" lengthAdjust="spacingAndGlyphs">80</text>
<text x="25.87" y="501.13" font-size="15.2" textLength="28.91" lengthAdjust="spacingAndGlyphs">100</text>
<text x="465.59" y="501.10" font-size="15.1" textLength="28.72" lengthAdjust="spacingAndGlyphs">100</text>
<text x="25.87" y="477.91" font-size="15.2" textLength="28.91" lengthAdjust="spacingAndGlyphs">120</text>
<text x="465.59" y="477.88" font-size="15.1" textLength="28.72" lengthAdjust="spacingAndGlyphs">120</text>
<text x="44.79" y="707.96" font-size="14.4" textLength="9.37" lengthAdjust="spacingAndGlyphs">0</text>
<text x="463.74" y="707.99" font-size="14.5" textLength="9.44" lengthAdjust="spacingAndGlyphs">0</text>
<text x="35.50" y="684.69" font-size="14.4" textLength="18.74" lengthAdjust="spacingAndGlyphs">33</text>
<text x="463.66" y="684.72" font-size="14.5" textLength="9.44" lengthAdjust="spacingAndGlyphs">8</text>
<text x="35.61" y="661.42" font-size="14.4" textLength="18.74" lengthAdjust="spacingAndGlyphs">67</text>
<text x="463.11" y="661.45" font-size="14.5" textLength="18.87" lengthAdjust="spacingAndGlyphs">16</text>
<text x="26.05" y="638.15" font-size="14.4" textLength="28.11" lengthAdjust="spacingAndGlyphs">100</text>
<text x="463.55" y="638.25" font-size="14.5" textLength="18.87" lengthAdjust="spacingAndGlyphs">24</text>
<text x="71.88" y="729.98" font-size="13.9" textLength="9.04" lengthAdjust="spacingAndGlyphs">0</text>
<text x="102.32" y="730.05" font-size="13.9" textLength="9.04" lengthAdjust="spacingAndGlyphs">2</text>
<text x="132.81" y="729.98" font-size="13.9" textLength="9.04" lengthAdjust="spacingAndGlyphs">4</text>
<text x="163.14" y="729.98" font-size="13.9" textLength="9.04" lengthAdjust="spacingAndGlyphs">6</text>
<text x="193.64" y="729.98" font-size="13.9" textLength="9.04" lengthAdjust="spacingAndGlyphs">8</text>
<text x="219.25" y="729.98" font-size="13.9" textLength="18.09" lengthAdjust="spacingAndGlyphs">10</text>
<text x="249.78" y="730.05" font-size="13.9" textLength="18.09" lengthAdjust="spacingAndGlyphs">12</text>
<text x="280.05" y="729.98" font-size="13.9" textLength="18.09" lengthAdjust="spacingAndGlyphs">14</text>
<text x="310.61" y="729.98" font-size="13.9" textLength="18.09" lengthAdjust="spacingAndGlyphs">16</text>
<text x="341.05" y="729.98" font-size="13.9" textLength="18.09" lengthAdjust="spacingAndGlyphs">18</text>
<text x="371.66" y="729.98" font-size="13.9" textLength="18.09" lengthAdjust="spacingAndGlyphs">20</text>
<text x="402.20" y="730.05" font-size="13.9" textLength="18.09" lengthAdjust="spacingAndGlyphs">22</text>
<text x="432.46" y="730.05" font-size="13.9" textLength="18.09" lengthAdjust="spacingAndGlyphs">24</text>
<text x="207.89" y="751.30" font-size="17.6" textLength="103.75" lengthAdjust="spacingAndGlyphs">Time (hours)</text>
<text transform="translate(127.37,80.30) scale(0.89,1)" x="0" y="0" font-size="17.3" font-weight="bold" letter-spacing="2.001" style="stroke-width:0.12px">INSULIN INFUSION RATE</text>
<text transform="translate(145.02,242.20) scale(0.96,1)" x="0" y="0" font-size="17.3" font-weight="bold" letter-spacing="1.199" style="stroke-width:0.4px">GLUCOSE</text>
<text transform="translate(120.99,263.60) scale(0.96,1)" x="0" y="0" font-size="17.3" font-weight="bold" letter-spacing="1.205" style="stroke-width:0.4px">INFUSION RATE</text>
<text transform="translate(109.40,367.80) scale(0.95,1)" x="0" y="0" font-size="17.3" font-weight="bold" letter-spacing="1.410" style="stroke-width:0.4px">PLASMA GLUCOSE</text>
<text x="130.65" y="576.00" font-size="17.3" font-weight="bold" style="stroke-width:0.2px" textLength="196.09" lengthAdjust="spacingAndGlyphs">Insulin Activity Profile</text>
<text transform="translate(123.94,668.30) scale(0.93,1)" x="0" y="0" font-size="17.3" font-weight="bold" letter-spacing="1.320" style="stroke-width:0.35px">SUBJECTS IN STUDY</text>
<text x="106.20" y="686.30" font-size="15.3" font-weight="bold" style="stroke-width:0.2px" textLength="224.50" lengthAdjust="spacingAndGlyphs">(Plasma glucose &lt; 180 mg/dl)</text>
<text x="103.32" y="13.60" font-size="14.6" font-weight="bold" style="stroke-width:0.3px" textLength="85.00" lengthAdjust="spacingAndGlyphs">s.c. insulin</text>
<text x="110.18" y="32.00" font-size="15.1" font-weight="bold" style="stroke-width:0.3px" textLength="71.78" lengthAdjust="spacingAndGlyphs">0.35 U/Kg</text>
<text x="252.68" y="20.30" font-size="16.5" textLength="68.82" lengthAdjust="spacingAndGlyphs">Glargine</text>
<text x="252.75" y="41.60" font-size="16.5" textLength="61.84" lengthAdjust="spacingAndGlyphs">Detemir</text>
<text x="360.77" y="20.40" font-size="16.3" textLength="56.37" lengthAdjust="spacingAndGlyphs">(N=24)</text>
<text x="357.39" y="41.80" font-size="16.3" textLength="75.45" lengthAdjust="spacingAndGlyphs">Mean±SE</text>
<line x1="218.60" y1="14.60" x2="247.80" y2="14.60" stroke="#111" stroke-width="1.2" />
<line x1="218.60" y1="36.20" x2="246.30" y2="36.20" stroke="#111" stroke-width="1.2" />
<ellipse cx="232.8" cy="14.6" rx="2.85" ry="2.5" fill="#fff" stroke="#111" stroke-width="1.1"/>
<ellipse cx="232.8" cy="36.2" rx="3.3" ry="3.1" fill="#111"/>
<path d="M98.8,13.1 H79.7 V29" fill="none" stroke="#111" stroke-width="1.6"/>
<path d="M71.8,22.4 L79.7,28.2 L87.2,22.4 L79.7,35.2 Z" fill="#111"/>
<text transform="translate(19.40,56.70) rotate(-90)" x="0" y="0" font-size="17.6" text-anchor="middle" textLength="108.6" lengthAdjust="spacingAndGlyphs">mU·Kg<tspan dy="-7.6" font-size="12">-1</tspan><tspan dy="7.6">·min</tspan><tspan dy="-7.6" font-size="12">-1</tspan></text>
<text transform="translate(517.00,56.80) rotate(-90)" x="0" y="0" font-size="17.6" text-anchor="middle" textLength="108.7" lengthAdjust="spacingAndGlyphs">mU·Kg<tspan dy="-7.6" font-size="12">-1</tspan><tspan dy="7.6">·min</tspan><tspan dy="-7.6" font-size="12">-1</tspan></text>
<text transform="translate(19.80,212.80) rotate(-90)" x="0" y="0" font-size="17.6" text-anchor="middle" textLength="123.8" lengthAdjust="spacingAndGlyphs">mmol·Kg<tspan dy="-7.6" font-size="12">-1</tspan><tspan dy="7.6">·min</tspan><tspan dy="-7.6" font-size="12">-1</tspan></text>
<text transform="translate(514.80,209.30) rotate(-90)" x="0" y="0" font-size="17.6" text-anchor="middle" textLength="116.3" lengthAdjust="spacingAndGlyphs">μmol·Kg<tspan dy="-7.6" font-size="12">-1</tspan><tspan dy="7.6">·min</tspan><tspan dy="-7.6" font-size="12">-1</tspan></text>
<text transform="translate(19.60,375.30) rotate(-90)" x="0" y="0" font-size="17.5" text-anchor="middle" textLength="42.8" lengthAdjust="spacingAndGlyphs">mg/dl</text>
<text transform="translate(514.90,375.00) rotate(-90)" x="0" y="0" font-size="17.4" text-anchor="middle" textLength="52.3" lengthAdjust="spacingAndGlyphs">mmol/l</text>
<text transform="translate(19.80,539.20) rotate(-90)" x="0" y="0" font-size="17.6" text-anchor="middle" textLength="87.8" lengthAdjust="spacingAndGlyphs">Activity (%)</text>
<text transform="translate(515.20,542.20) rotate(-90)" x="0" y="0" font-size="17.6" text-anchor="middle" textLength="86.8" lengthAdjust="spacingAndGlyphs">Activity (%)</text>
<text transform="translate(19.80,673.50) rotate(-90)" x="0" y="0" font-size="17.6" text-anchor="middle" textLength="100.5" lengthAdjust="spacingAndGlyphs">Subjects (%)</text>
<text transform="translate(513.80,672.30) rotate(-90)" x="0" y="0" font-size="17.5" text-anchor="middle" textLength="97.6" lengthAdjust="spacingAndGlyphs">Subjects (N)</text>
</svg>
</body></html>
